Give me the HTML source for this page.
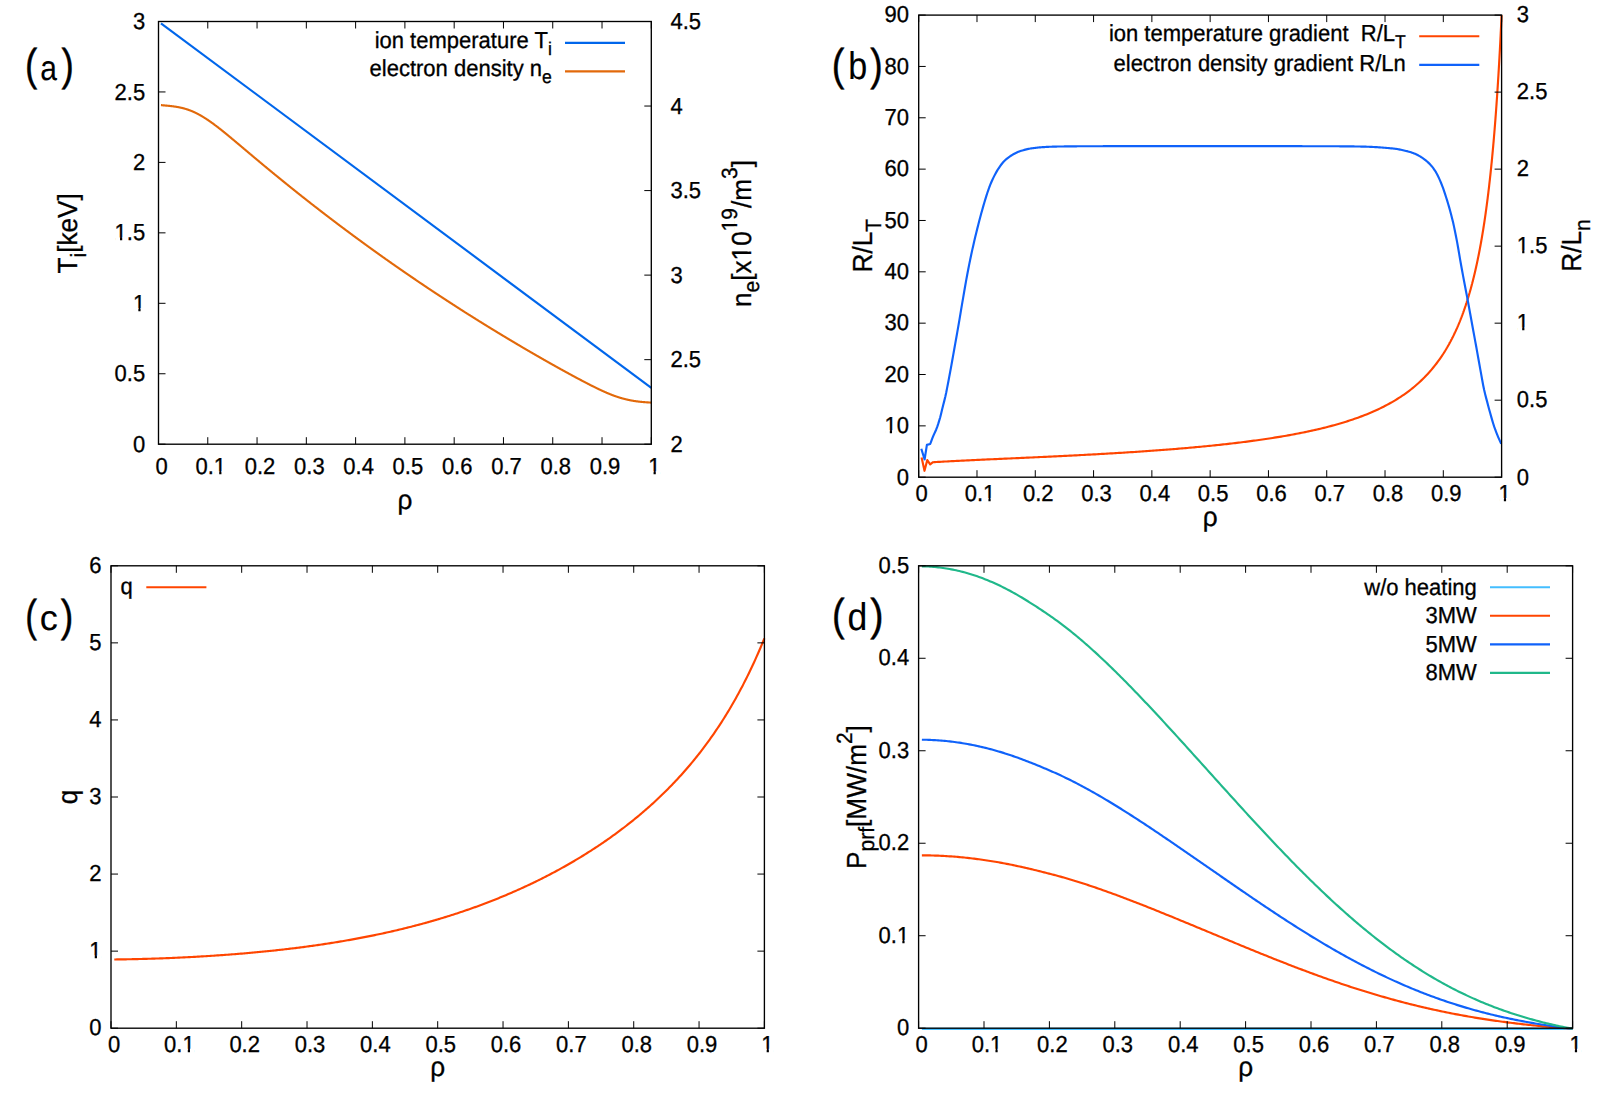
<!DOCTYPE html>
<html lang="en"><head><meta charset="utf-8"><title>Radial profiles</title>
<style>html,body{margin:0;padding:0;background:#fff}svg{display:block}text{font-family:'Liberation Sans', Arial, Helvetica, sans-serif;fill:#000;stroke:#000;stroke-width:0.3px;text-rendering:geometricPrecision}</style></head><body>
<svg width="1600" height="1106" viewBox="0 0 1600 1106">
<rect width="1600" height="1106" fill="#fff"/>
<g id="panel-a">
<path d="M160.96,23.33 L651.3,387.84" fill="none" stroke="#0066eb" stroke-width="2.15" stroke-linejoin="round" stroke-linecap="butt"/>
<path d="M160.96,105.13 L161.21,105.15 L161.46,105.17 L161.7,105.19 L161.95,105.22 L162.2,105.24 L162.44,105.26 L162.69,105.28 L162.94,105.31 L163.18,105.33 L163.43,105.35 L163.67,105.37 L163.92,105.4 L164.17,105.42 L164.41,105.44 L164.66,105.47 L164.91,105.49 L165.15,105.51 L165.4,105.53 L165.65,105.56 L165.89,105.58 L166.14,105.6 L166.38,105.62 L166.63,105.65 L166.88,105.67 L167.12,105.69 L167.37,105.71 L167.62,105.74 L167.86,105.76 L168.11,105.78 L168.36,105.8 L168.6,105.83 L168.85,105.85 L169.1,105.87 L169.34,105.9 L169.59,105.92 L169.83,105.95 L170.08,105.97 L170.33,106 L170.57,106.03 L170.82,106.06 L171.07,106.08 L171.31,106.11 L171.56,106.14 L171.81,106.17 L172.05,106.2 L172.3,106.23 L172.54,106.26 L172.79,106.3 L173.04,106.33 L173.28,106.36 L173.53,106.39 L173.78,106.43 L174.02,106.46 L174.27,106.49 L174.52,106.53 L174.76,106.57 L175.01,106.6 L175.26,106.64 L175.5,106.68 L175.75,106.71 L175.99,106.75 L176.24,106.79 L176.49,106.83 L176.73,106.87 L176.98,106.92 L177.23,106.96 L177.47,107 L177.72,107.04 L177.97,107.09 L178.21,107.14 L178.46,107.18 L178.7,107.23 L178.95,107.28 L179.2,107.33 L179.44,107.38 L179.69,107.43 L179.94,107.48 L180.18,107.53 L180.43,107.58 L180.68,107.64 L180.92,107.69 L181.17,107.75 L181.42,107.8 L181.66,107.86 L181.91,107.92 L182.15,107.98 L182.4,108.04 L182.65,108.1 L182.89,108.16 L183.14,108.22 L183.39,108.29 L183.63,108.35 L183.88,108.42 L184.13,108.48 L184.37,108.55 L184.62,108.62 L184.86,108.69 L185.11,108.76 L185.36,108.84 L185.6,108.91 L185.85,108.98 L186.1,109.06 L186.34,109.14 L186.59,109.21 L186.84,109.29 L187.08,109.37 L187.33,109.45 L187.58,109.54 L187.82,109.62 L188.07,109.7 L188.31,109.79 L188.56,109.87 L188.81,109.96 L189.05,110.05 L189.3,110.14 L189.55,110.23 L189.79,110.32 L190.04,110.42 L190.29,110.51 L190.53,110.61 L190.78,110.7 L191.02,110.8 L191.27,110.9 L191.52,111 L191.76,111.1 L192.01,111.2 L192.26,111.31 L192.5,111.41 L192.75,111.51 L193,111.62 L193.24,111.73 L193.49,111.84 L193.74,111.95 L193.98,112.06 L194.23,112.17 L194.47,112.28 L194.72,112.4 L194.97,112.51 L195.21,112.63 L195.46,112.75 L195.71,112.87 L195.95,112.99 L196.2,113.11 L196.45,113.23 L196.69,113.36 L196.94,113.48 L197.18,113.61 L197.43,113.73 L197.68,113.86 L197.92,113.99 L198.17,114.12 L198.42,114.25 L198.66,114.38 L198.91,114.52 L199.16,114.65 L199.4,114.79 L199.65,114.92 L199.9,115.06 L200.14,115.2 L200.39,115.34 L200.63,115.48 L200.88,115.62 L201.13,115.76 L201.37,115.91 L201.62,116.05 L201.87,116.2 L202.11,116.34 L202.36,116.49 L202.61,116.64 L202.85,116.79 L203.1,116.94 L203.34,117.09 L203.59,117.24 L203.84,117.39 L204.08,117.54 L204.33,117.7 L204.58,117.85 L204.82,118.01 L205.07,118.16 L205.32,118.32 L205.56,118.48 L205.81,118.64 L206.06,118.8 L206.3,118.96 L206.55,119.12 L206.79,119.28 L207.04,119.44 L207.29,119.6 L207.53,119.77 L207.78,119.93 L208.03,120.1 L208.27,120.27 L208.52,120.43 L208.77,120.6 L209.01,120.77 L209.26,120.94 L209.5,121.11 L209.75,121.28 L210,121.45 L210.24,121.62 L210.49,121.79 L210.74,121.97 L210.98,122.14 L211.23,122.32 L211.48,122.49 L211.72,122.67 L211.97,122.84 L212.22,123.02 L212.46,123.2 L212.71,123.38 L212.95,123.56 L213.2,123.74 L213.45,123.92 L213.69,124.1 L213.94,124.28 L214.19,124.46 L214.43,124.64 L214.68,124.83 L214.93,125.01 L215.17,125.2 L215.42,125.38 L215.66,125.57 L215.91,125.75 L216.16,125.94 L216.4,126.13 L216.65,126.32 L216.9,126.5 L217.14,126.69 L217.39,126.88 L217.64,127.07 L217.88,127.26 L218.13,127.45 L218.38,127.64 L218.62,127.84 L218.87,128.03 L219.11,128.22 L219.36,128.41 L219.61,128.61 L219.85,128.8 L220.1,128.99 L220.35,129.19 L220.59,129.38 L220.84,129.58 L221.09,129.78 L221.33,129.97 L221.58,130.17 L221.82,130.36 L222.07,130.56 L222.32,130.76 L222.56,130.96 L222.81,131.15 L223.06,131.35 L223.3,131.55 L223.55,131.75 L223.8,131.95 L224.04,132.15 L224.29,132.35 L224.54,132.55 L224.78,132.75 L225.03,132.95 L225.27,133.15 L225.52,133.35 L225.77,133.55 L226.01,133.75 L226.26,133.95 L226.51,134.16 L226.75,134.36 L227,134.56 L227.25,134.76 L227.49,134.97 L227.74,135.17 L227.98,135.37 L228.23,135.57 L228.48,135.78 L228.72,135.98 L228.97,136.19 L229.22,136.39 L229.46,136.59 L229.71,136.8 L229.96,137 L230.2,137.21 L230.45,137.41 L230.7,137.62 L230.94,137.82 L231.19,138.03 L231.43,138.23 L231.68,138.44 L231.93,138.64 L232.17,138.85 L232.42,139.05 L232.67,139.26 L232.91,139.47 L233.16,139.67 L233.41,139.88 L233.65,140.08 L233.9,140.29 L234.14,140.5 L234.39,140.7 L234.64,140.91 L234.88,141.12 L235.13,141.32 L235.38,141.53 L235.62,141.74 L235.87,141.94 L236.12,142.15 L236.36,142.36 L236.61,142.56 L236.86,142.77 L237.1,142.98 L237.35,143.18 L237.59,143.39 L237.84,143.6 L238.09,143.8 L238.33,144.01 L238.58,144.22 L238.83,144.43 L239.07,144.63 L239.32,144.84 L239.57,145.05 L239.81,145.26 L240.06,145.46 L240.3,145.67 L240.55,145.88 L240.8,146.09 L241.04,146.29 L241.29,146.5 L241.54,146.71 L241.78,146.92 L242.03,147.12 L242.28,147.33 L242.52,147.54 L242.77,147.75 L243.02,147.95 L243.26,148.16 L243.51,148.37 L243.75,148.58 L244,148.79 L244.25,148.99 L244.49,149.2 L244.74,149.41 L244.99,149.62 L245.23,149.82 L245.48,150.03 L245.73,150.24 L245.97,150.45 L246.22,150.65 L246.46,150.86 L246.71,151.07 L246.96,151.28 L247.2,151.48 L247.45,151.69 L247.7,151.9 L247.94,152.11 L248.19,152.31 L248.44,152.52 L248.68,152.73 L248.93,152.94 L249.18,153.14 L249.42,153.35 L249.67,153.56 L249.91,153.77 L250.16,153.97 L250.41,154.18 L250.65,154.39 L250.9,154.59 L251.15,154.8 L251.39,155.01 L251.64,155.22 L251.89,155.42 L252.13,155.63 L252.38,155.84 L252.62,156.04 L252.87,156.25 L253.12,156.46 L253.36,156.66 L253.61,156.87 L253.86,157.08 L254.1,157.29 L254.35,157.49 L254.6,157.7 L254.84,157.91 L255.09,158.11 L255.34,158.32 L255.58,158.52 L255.83,158.73 L256.07,158.94 L256.32,159.14 L256.57,159.35 L256.81,159.56 L257.06,159.76 L257.31,159.97 L257.55,160.18 L257.8,160.38 L258.05,160.59 L258.29,160.79 L258.54,161 L258.78,161.2 L259.03,161.41 L259.28,161.62 L259.52,161.82 L259.77,162.03 L260.02,162.23 L260.26,162.44 L260.51,162.64 L260.76,162.85 L261,163.06 L261.25,163.26 L261.5,163.47 L261.74,163.67 L261.99,163.88 L262.23,164.08 L262.48,164.29 L262.73,164.49 L262.97,164.7 L263.22,164.9 L263.47,165.11 L263.71,165.31 L263.96,165.52 L264.21,165.72 L264.45,165.93 L264.7,166.13 L264.94,166.33 L265.19,166.54 L265.44,166.74 L265.68,166.95 L265.93,167.15 L266.18,167.36 L266.42,167.56 L266.67,167.76 L266.92,167.97 L267.16,168.17 L267.41,168.38 L267.66,168.58 L267.9,168.78 L268.15,168.99 L268.39,169.19 L268.64,169.4 L268.89,169.6 L269.13,169.8 L269.38,170.01 L269.63,170.21 L269.87,170.41 L270.12,170.62 L270.37,170.82 L270.61,171.02 L270.86,171.23 L271.1,171.43 L271.35,171.63 L271.6,171.84 L271.84,172.04 L272.09,172.24 L272.34,172.44 L272.58,172.65 L272.83,172.85 L273.08,173.05 L273.32,173.25 L273.57,173.46 L273.82,173.66 L274.06,173.86 L274.31,174.06 L274.55,174.27 L274.8,174.47 L275.05,174.67 L275.29,174.87 L275.54,175.07 L275.79,175.28 L276.03,175.48 L276.28,175.68 L276.53,175.88 L276.77,176.08 L277.02,176.28 L277.26,176.49 L277.51,176.69 L277.76,176.89 L278,177.09 L278.25,177.29 L278.5,177.49 L278.74,177.69 L278.99,177.89 L279.24,178.1 L279.48,178.3 L279.73,178.5 L279.98,178.7 L280.22,178.9 L280.47,179.1 L280.71,179.3 L280.96,179.5 L281.21,179.7 L281.45,179.9 L281.7,180.1 L281.95,180.3 L282.19,180.5 L282.44,180.7 L282.69,180.9 L282.93,181.1 L283.18,181.3 L283.42,181.5 L283.67,181.7 L283.92,181.9 L284.16,182.1 L284.41,182.3 L284.66,182.5 L284.9,182.7 L285.15,182.9 L285.4,183.1 L285.64,183.3 L285.89,183.5 L286.14,183.7 L286.38,183.9 L286.63,184.09 L286.87,184.29 L287.12,184.49 L287.37,184.69 L287.61,184.89 L287.86,185.09 L288.11,185.29 L288.35,185.49 L288.6,185.68 L288.85,185.88 L289.09,186.08 L289.34,186.28 L289.58,186.48 L289.83,186.68 L290.08,186.87 L290.32,187.07 L290.57,187.27 L290.82,187.47 L291.06,187.67 L291.31,187.86 L291.56,188.06 L291.8,188.26 L292.05,188.46 L292.3,188.65 L292.54,188.85 L292.79,189.05 L293.03,189.25 L293.28,189.44 L293.53,189.64 L293.77,189.84 L294.02,190.04 L294.27,190.23 L294.51,190.43 L294.76,190.63 L295.01,190.82 L295.25,191.02 L295.5,191.22 L295.74,191.41 L295.99,191.61 L296.24,191.81 L296.48,192 L296.73,192.2 L296.98,192.4 L297.22,192.59 L297.47,192.79 L297.72,192.99 L297.96,193.18 L298.21,193.38 L298.46,193.57 L298.7,193.77 L298.95,193.96 L299.19,194.16 L299.44,194.36 L299.69,194.55 L299.93,194.75 L300.18,194.94 L300.43,195.14 L300.67,195.33 L300.92,195.53 L301.17,195.72 L301.41,195.92 L301.66,196.11 L301.9,196.31 L302.15,196.5 L302.4,196.7 L302.64,196.89 L302.89,197.09 L303.14,197.28 L303.38,197.48 L303.63,197.67 L303.88,197.87 L304.12,198.06 L304.37,198.26 L304.62,198.45 L304.86,198.65 L305.11,198.84 L305.35,199.03 L305.6,199.23 L305.85,199.42 L306.09,199.62 L306.34,199.81 L306.59,200 L306.83,200.2 L307.08,200.39 L307.33,200.58 L307.57,200.78 L307.82,200.97 L308.06,201.17 L308.31,201.36 L308.56,201.55 L308.8,201.75 L309.05,201.94 L309.3,202.13 L309.54,202.32 L309.79,202.52 L310.04,202.71 L310.28,202.9 L310.53,203.1 L310.78,203.29 L311.02,203.48 L311.27,203.67 L311.51,203.87 L311.76,204.06 L312.01,204.25 L312.25,204.44 L312.5,204.64 L312.75,204.83 L312.99,205.02 L313.24,205.21 L313.49,205.41 L313.73,205.6 L313.98,205.79 L314.22,205.98 L314.47,206.17 L314.72,206.36 L314.96,206.56 L315.21,206.75 L315.46,206.94 L315.7,207.13 L315.95,207.32 L316.2,207.51 L316.44,207.71 L316.69,207.9 L316.94,208.09 L317.18,208.28 L317.43,208.47 L317.67,208.66 L317.92,208.85 L318.17,209.04 L318.41,209.23 L318.66,209.42 L318.91,209.61 L319.15,209.81 L319.4,210 L319.65,210.19 L319.89,210.38 L320.14,210.57 L320.38,210.76 L320.63,210.95 L320.88,211.14 L321.12,211.33 L321.37,211.52 L321.62,211.71 L321.86,211.9 L322.11,212.09 L322.36,212.28 L322.6,212.47 L322.85,212.66 L323.1,212.85 L323.34,213.04 L323.59,213.23 L323.83,213.41 L324.08,213.6 L324.33,213.79 L324.57,213.98 L324.82,214.17 L325.07,214.36 L325.31,214.55 L325.56,214.74 L325.81,214.93 L326.05,215.12 L326.3,215.31 L326.54,215.49 L326.79,215.68 L327.04,215.87 L327.28,216.06 L327.53,216.25 L327.78,216.44 L328.02,216.62 L328.27,216.81 L328.52,217 L328.76,217.19 L329.01,217.38 L329.26,217.57 L329.5,217.75 L329.75,217.94 L329.99,218.13 L330.24,218.32 L330.49,218.5 L330.73,218.69 L330.98,218.88 L331.23,219.07 L331.47,219.25 L331.72,219.44 L331.97,219.63 L332.21,219.82 L332.46,220 L332.7,220.19 L332.95,220.38 L333.2,220.57 L333.44,220.75 L333.69,220.94 L333.94,221.13 L334.18,221.31 L334.43,221.5 L334.68,221.69 L334.92,221.87 L335.17,222.06 L335.42,222.25 L335.66,222.43 L335.91,222.62 L336.15,222.8 L336.4,222.99 L336.65,223.18 L336.89,223.36 L337.14,223.55 L337.39,223.74 L337.63,223.92 L337.88,224.11 L338.13,224.29 L338.37,224.48 L338.62,224.66 L338.86,224.85 L339.11,225.04 L339.36,225.22 L339.6,225.41 L339.85,225.59 L340.1,225.78 L340.34,225.96 L340.59,226.15 L340.84,226.33 L341.08,226.52 L341.33,226.7 L341.58,226.89 L341.82,227.07 L342.07,227.26 L342.31,227.44 L342.56,227.63 L342.81,227.81 L343.05,228 L343.3,228.18 L343.55,228.36 L343.79,228.55 L344.04,228.73 L344.29,228.92 L344.53,229.1 L344.78,229.29 L345.02,229.47 L345.27,229.65 L345.52,229.84 L345.76,230.02 L346.01,230.21 L346.26,230.39 L346.5,230.57 L346.75,230.76 L347,230.94 L347.24,231.12 L347.49,231.31 L347.74,231.49 L347.98,231.67 L348.23,231.86 L348.47,232.04 L348.72,232.22 L348.97,232.41 L349.21,232.59 L349.46,232.77 L349.71,232.96 L349.95,233.14 L350.2,233.32 L350.45,233.5 L350.69,233.69 L350.94,233.87 L351.18,234.05 L351.43,234.23 L351.68,234.42 L351.92,234.6 L352.17,234.78 L352.42,234.96 L352.66,235.15 L352.91,235.33 L353.16,235.51 L353.4,235.69 L353.65,235.87 L353.9,236.06 L354.14,236.24 L354.39,236.42 L354.63,236.6 L354.88,236.78 L355.13,236.97 L355.37,237.15 L355.62,237.33 L355.87,237.51 L356.11,237.69 L356.36,237.87 L356.61,238.05 L356.85,238.23 L357.1,238.42 L357.34,238.6 L357.59,238.78 L357.84,238.96 L358.08,239.14 L358.33,239.32 L358.58,239.5 L358.82,239.68 L359.07,239.86 L359.32,240.04 L359.56,240.22 L359.81,240.4 L360.06,240.58 L360.3,240.76 L360.55,240.94 L360.79,241.12 L361.04,241.31 L361.29,241.49 L361.53,241.67 L361.78,241.85 L362.03,242.03 L362.27,242.2 L362.52,242.38 L362.77,242.56 L363.01,242.74 L363.26,242.92 L363.5,243.1 L363.75,243.28 L364,243.46 L364.24,243.64 L364.49,243.82 L364.74,244 L364.98,244.18 L365.23,244.36 L365.48,244.54 L365.72,244.72 L365.97,244.9 L366.22,245.07 L366.46,245.25 L366.71,245.43 L366.95,245.61 L367.2,245.79 L367.45,245.97 L367.69,246.15 L367.94,246.32 L368.19,246.5 L368.43,246.68 L368.68,246.86 L368.93,247.04 L369.17,247.22 L369.42,247.39 L369.66,247.57 L369.91,247.75 L370.16,247.93 L370.4,248.11 L370.65,248.28 L370.9,248.46 L371.14,248.64 L371.39,248.82 L371.64,248.99 L371.88,249.17 L372.13,249.35 L372.38,249.53 L372.62,249.7 L372.87,249.88 L373.11,250.06 L373.36,250.24 L373.61,250.41 L373.85,250.59 L374.1,250.77 L374.35,250.94 L374.59,251.12 L374.84,251.3 L375.09,251.48 L375.33,251.65 L375.58,251.83 L375.82,252.01 L376.07,252.18 L376.32,252.36 L376.56,252.53 L376.81,252.71 L377.06,252.89 L377.3,253.06 L377.55,253.24 L377.8,253.42 L378.04,253.59 L378.29,253.77 L378.54,253.94 L378.78,254.12 L379.03,254.3 L379.27,254.47 L379.52,254.65 L379.77,254.82 L380.01,255 L380.26,255.17 L380.51,255.35 L380.75,255.52 L381,255.7 L381.25,255.88 L381.49,256.05 L381.74,256.23 L381.98,256.4 L382.23,256.58 L382.48,256.75 L382.72,256.93 L382.97,257.1 L383.22,257.28 L383.46,257.45 L383.71,257.62 L383.96,257.8 L384.2,257.97 L384.45,258.15 L384.7,258.32 L384.94,258.5 L385.19,258.67 L385.43,258.85 L385.68,259.02 L385.93,259.19 L386.17,259.37 L386.42,259.54 L386.67,259.72 L386.91,259.89 L387.16,260.06 L387.41,260.24 L387.65,260.41 L387.9,260.59 L388.14,260.76 L388.39,260.93 L388.64,261.11 L388.88,261.28 L389.13,261.45 L389.38,261.63 L389.62,261.8 L389.87,261.97 L390.12,262.15 L390.36,262.32 L390.61,262.49 L390.86,262.67 L391.1,262.84 L391.35,263.01 L391.59,263.19 L391.84,263.36 L392.09,263.53 L392.33,263.7 L392.58,263.88 L392.83,264.05 L393.07,264.22 L393.32,264.39 L393.57,264.57 L393.81,264.74 L394.06,264.91 L394.3,265.08 L394.55,265.26 L394.8,265.43 L395.04,265.6 L395.29,265.77 L395.54,265.94 L395.78,266.12 L396.03,266.29 L396.28,266.46 L396.52,266.63 L396.77,266.8 L397.02,266.97 L397.26,267.15 L397.51,267.32 L397.75,267.49 L398,267.66 L398.25,267.83 L398.49,268 L398.74,268.17 L398.99,268.34 L399.23,268.52 L399.48,268.69 L399.73,268.86 L399.97,269.03 L400.22,269.2 L400.46,269.37 L400.71,269.54 L400.96,269.71 L401.2,269.88 L401.45,270.05 L401.7,270.22 L401.94,270.39 L402.19,270.56 L402.44,270.74 L402.68,270.91 L402.93,271.08 L403.18,271.25 L403.42,271.42 L403.67,271.59 L403.91,271.76 L404.16,271.93 L404.41,272.1 L404.65,272.27 L404.9,272.44 L405.15,272.61 L405.39,272.78 L405.64,272.94 L405.89,273.11 L406.13,273.28 L406.38,273.45 L406.62,273.62 L406.87,273.79 L407.12,273.96 L407.36,274.13 L407.61,274.3 L407.86,274.47 L408.1,274.64 L408.35,274.81 L408.6,274.98 L408.84,275.14 L409.09,275.31 L409.34,275.48 L409.58,275.65 L409.83,275.82 L410.07,275.99 L410.32,276.16 L410.57,276.33 L410.81,276.49 L411.06,276.66 L411.31,276.83 L411.55,277 L411.8,277.17 L412.05,277.34 L412.29,277.5 L412.54,277.67 L412.78,277.84 L413.03,278.01 L413.28,278.18 L413.52,278.34 L413.77,278.51 L414.02,278.68 L414.26,278.85 L414.51,279.01 L414.76,279.18 L415,279.35 L415.25,279.52 L415.5,279.68 L415.74,279.85 L415.99,280.02 L416.23,280.19 L416.48,280.35 L416.73,280.52 L416.97,280.69 L417.22,280.85 L417.47,281.02 L417.71,281.19 L417.96,281.35 L418.21,281.52 L418.45,281.69 L418.7,281.85 L418.94,282.02 L419.19,282.19 L419.44,282.35 L419.68,282.52 L419.93,282.69 L420.18,282.85 L420.42,283.02 L420.67,283.19 L420.92,283.35 L421.16,283.52 L421.41,283.68 L421.66,283.85 L421.9,284.02 L422.15,284.18 L422.39,284.35 L422.64,284.51 L422.89,284.68 L423.13,284.84 L423.38,285.01 L423.63,285.18 L423.87,285.34 L424.12,285.51 L424.37,285.67 L424.61,285.84 L424.86,286 L425.1,286.17 L425.35,286.33 L425.6,286.5 L425.84,286.66 L426.09,286.83 L426.34,286.99 L426.58,287.16 L426.83,287.32 L427.08,287.49 L427.32,287.65 L427.57,287.82 L427.82,287.98 L428.06,288.15 L428.31,288.31 L428.55,288.48 L428.8,288.64 L429.05,288.8 L429.29,288.97 L429.54,289.13 L429.79,289.3 L430.03,289.46 L430.28,289.62 L430.53,289.79 L430.77,289.95 L431.02,290.12 L431.26,290.28 L431.51,290.44 L431.76,290.61 L432,290.77 L432.25,290.94 L432.5,291.1 L432.74,291.26 L432.99,291.43 L433.24,291.59 L433.48,291.75 L433.73,291.92 L433.98,292.08 L434.22,292.24 L434.47,292.41 L434.71,292.57 L434.96,292.73 L435.21,292.89 L435.45,293.06 L435.7,293.22 L435.95,293.38 L436.19,293.55 L436.44,293.71 L436.69,293.87 L436.93,294.03 L437.18,294.2 L437.42,294.36 L437.67,294.52 L437.92,294.68 L438.16,294.85 L438.41,295.01 L438.66,295.17 L438.9,295.33 L439.15,295.49 L439.4,295.66 L439.64,295.82 L439.89,295.98 L440.14,296.14 L440.38,296.3 L440.63,296.47 L440.87,296.63 L441.12,296.79 L441.37,296.95 L441.61,297.11 L441.86,297.27 L442.11,297.44 L442.35,297.6 L442.6,297.76 L442.85,297.92 L443.09,298.08 L443.34,298.24 L443.58,298.4 L443.83,298.56 L444.08,298.73 L444.32,298.89 L444.57,299.05 L444.82,299.21 L445.06,299.37 L445.31,299.53 L445.56,299.69 L445.8,299.85 L446.05,300.01 L446.3,300.17 L446.54,300.33 L446.79,300.49 L447.03,300.65 L447.28,300.81 L447.53,300.97 L447.77,301.13 L448.02,301.29 L448.27,301.45 L448.51,301.61 L448.76,301.77 L449.01,301.93 L449.25,302.09 L449.5,302.25 L449.74,302.41 L449.99,302.57 L450.24,302.73 L450.48,302.89 L450.73,303.05 L450.98,303.21 L451.22,303.37 L451.47,303.53 L451.72,303.69 L451.96,303.85 L452.21,304.01 L452.46,304.17 L452.7,304.33 L452.95,304.49 L453.19,304.65 L453.44,304.8 L453.69,304.96 L453.93,305.12 L454.18,305.28 L454.43,305.44 L454.67,305.6 L454.92,305.76 L455.17,305.92 L455.41,306.07 L455.66,306.23 L455.9,306.39 L456.15,306.55 L456.4,306.71 L456.64,306.87 L456.89,307.03 L457.14,307.18 L457.38,307.34 L457.63,307.5 L457.88,307.66 L458.12,307.82 L458.37,307.97 L458.62,308.13 L458.86,308.29 L459.11,308.45 L459.35,308.6 L459.6,308.76 L459.85,308.92 L460.09,309.08 L460.34,309.24 L460.59,309.39 L460.83,309.55 L461.08,309.71 L461.33,309.86 L461.57,310.02 L461.82,310.18 L462.06,310.34 L462.31,310.49 L462.56,310.65 L462.8,310.81 L463.05,310.96 L463.3,311.12 L463.54,311.28 L463.79,311.44 L464.04,311.59 L464.28,311.75 L464.53,311.91 L464.78,312.06 L465.02,312.22 L465.27,312.37 L465.51,312.53 L465.76,312.69 L466.01,312.84 L466.25,313 L466.5,313.16 L466.75,313.31 L466.99,313.47 L467.24,313.62 L467.49,313.78 L467.73,313.94 L467.98,314.09 L468.22,314.25 L468.47,314.4 L468.72,314.56 L468.96,314.72 L469.21,314.87 L469.46,315.03 L469.7,315.18 L469.95,315.34 L470.2,315.49 L470.44,315.65 L470.69,315.8 L470.94,315.96 L471.18,316.11 L471.43,316.27 L471.67,316.42 L471.92,316.58 L472.17,316.73 L472.41,316.89 L472.66,317.04 L472.91,317.2 L473.15,317.35 L473.4,317.51 L473.65,317.66 L473.89,317.82 L474.14,317.97 L474.38,318.13 L474.63,318.28 L474.88,318.44 L475.12,318.59 L475.37,318.74 L475.62,318.9 L475.86,319.05 L476.11,319.21 L476.36,319.36 L476.6,319.52 L476.85,319.67 L477.1,319.82 L477.34,319.98 L477.59,320.13 L477.83,320.29 L478.08,320.44 L478.33,320.59 L478.57,320.75 L478.82,320.9 L479.07,321.05 L479.31,321.21 L479.56,321.36 L479.81,321.51 L480.05,321.67 L480.3,321.82 L480.54,321.97 L480.79,322.13 L481.04,322.28 L481.28,322.43 L481.53,322.59 L481.78,322.74 L482.02,322.89 L482.27,323.05 L482.52,323.2 L482.76,323.35 L483.01,323.5 L483.26,323.66 L483.5,323.81 L483.75,323.96 L483.99,324.11 L484.24,324.27 L484.49,324.42 L484.73,324.57 L484.98,324.72 L485.23,324.88 L485.47,325.03 L485.72,325.18 L485.97,325.33 L486.21,325.48 L486.46,325.64 L486.7,325.79 L486.95,325.94 L487.2,326.09 L487.44,326.24 L487.69,326.4 L487.94,326.55 L488.18,326.7 L488.43,326.85 L488.68,327 L488.92,327.15 L489.17,327.31 L489.42,327.46 L489.66,327.61 L489.91,327.76 L490.15,327.91 L490.4,328.06 L490.65,328.21 L490.89,328.36 L491.14,328.52 L491.39,328.67 L491.63,328.82 L491.88,328.97 L492.13,329.12 L492.37,329.27 L492.62,329.42 L492.86,329.57 L493.11,329.72 L493.36,329.87 L493.6,330.02 L493.85,330.17 L494.1,330.32 L494.34,330.48 L494.59,330.63 L494.84,330.78 L495.08,330.93 L495.33,331.08 L495.58,331.23 L495.82,331.38 L496.07,331.53 L496.31,331.68 L496.56,331.83 L496.81,331.98 L497.05,332.13 L497.3,332.28 L497.55,332.43 L497.79,332.58 L498.04,332.73 L498.29,332.87 L498.53,333.02 L498.78,333.17 L499.02,333.32 L499.27,333.47 L499.52,333.62 L499.76,333.77 L500.01,333.92 L500.26,334.07 L500.5,334.22 L500.75,334.37 L501,334.52 L501.24,334.67 L501.49,334.82 L501.74,334.96 L501.98,335.11 L502.23,335.26 L502.47,335.41 L502.72,335.56 L502.97,335.71 L503.21,335.86 L503.46,336 L503.71,336.15 L503.95,336.3 L504.2,336.45 L504.45,336.6 L504.69,336.75 L504.94,336.9 L505.18,337.04 L505.43,337.19 L505.68,337.34 L505.92,337.49 L506.17,337.64 L506.42,337.78 L506.66,337.93 L506.91,338.08 L507.16,338.23 L507.4,338.37 L507.65,338.52 L507.9,338.67 L508.14,338.82 L508.39,338.97 L508.63,339.11 L508.88,339.26 L509.13,339.41 L509.37,339.56 L509.62,339.7 L509.87,339.85 L510.11,340 L510.36,340.14 L510.61,340.29 L510.85,340.44 L511.1,340.59 L511.34,340.73 L511.59,340.88 L511.84,341.03 L512.08,341.17 L512.33,341.32 L512.58,341.47 L512.82,341.61 L513.07,341.76 L513.32,341.91 L513.56,342.05 L513.81,342.2 L514.06,342.35 L514.3,342.49 L514.55,342.64 L514.79,342.78 L515.04,342.93 L515.29,343.08 L515.53,343.22 L515.78,343.37 L516.03,343.52 L516.27,343.66 L516.52,343.81 L516.77,343.95 L517.01,344.1 L517.26,344.24 L517.5,344.39 L517.75,344.54 L518,344.68 L518.24,344.83 L518.49,344.97 L518.74,345.12 L518.98,345.26 L519.23,345.41 L519.48,345.55 L519.72,345.7 L519.97,345.85 L520.22,345.99 L520.46,346.14 L520.71,346.28 L520.95,346.43 L521.2,346.57 L521.45,346.72 L521.69,346.86 L521.94,347.01 L522.19,347.15 L522.43,347.29 L522.68,347.44 L522.93,347.58 L523.17,347.73 L523.42,347.87 L523.66,348.02 L523.91,348.16 L524.16,348.31 L524.4,348.45 L524.65,348.6 L524.9,348.74 L525.14,348.88 L525.39,349.03 L525.64,349.17 L525.88,349.32 L526.13,349.46 L526.38,349.6 L526.62,349.75 L526.87,349.89 L527.11,350.04 L527.36,350.18 L527.61,350.32 L527.85,350.47 L528.1,350.61 L528.35,350.75 L528.59,350.9 L528.84,351.04 L529.09,351.18 L529.33,351.33 L529.58,351.47 L529.82,351.61 L530.07,351.76 L530.32,351.9 L530.56,352.04 L530.81,352.19 L531.06,352.33 L531.3,352.47 L531.55,352.62 L531.8,352.76 L532.04,352.9 L532.29,353.04 L532.54,353.19 L532.78,353.33 L533.03,353.47 L533.27,353.61 L533.52,353.76 L533.77,353.9 L534.01,354.04 L534.26,354.18 L534.51,354.33 L534.75,354.47 L535,354.61 L535.25,354.75 L535.49,354.9 L535.74,355.04 L535.98,355.18 L536.23,355.32 L536.48,355.46 L536.72,355.6 L536.97,355.75 L537.22,355.89 L537.46,356.03 L537.71,356.17 L537.96,356.31 L538.2,356.45 L538.45,356.6 L538.7,356.74 L538.94,356.88 L539.19,357.02 L539.43,357.16 L539.68,357.3 L539.93,357.44 L540.17,357.59 L540.42,357.73 L540.67,357.87 L540.91,358.01 L541.16,358.15 L541.41,358.29 L541.65,358.43 L541.9,358.57 L542.14,358.71 L542.39,358.85 L542.64,358.99 L542.88,359.13 L543.13,359.27 L543.38,359.42 L543.62,359.56 L543.87,359.7 L544.12,359.84 L544.36,359.98 L544.61,360.12 L544.86,360.26 L545.1,360.4 L545.35,360.54 L545.59,360.68 L545.84,360.82 L546.09,360.96 L546.33,361.1 L546.58,361.24 L546.83,361.38 L547.07,361.52 L547.32,361.65 L547.57,361.79 L547.81,361.93 L548.06,362.07 L548.3,362.21 L548.55,362.35 L548.8,362.49 L549.04,362.63 L549.29,362.77 L549.54,362.91 L549.78,363.05 L550.03,363.19 L550.28,363.33 L550.52,363.46 L550.77,363.6 L551.02,363.74 L551.26,363.88 L551.51,364.02 L551.75,364.16 L552,364.3 L552.25,364.43 L552.49,364.57 L552.74,364.71 L552.99,364.85 L553.23,364.99 L553.48,365.13 L553.73,365.26 L553.97,365.4 L554.22,365.54 L554.46,365.68 L554.71,365.82 L554.96,365.95 L555.2,366.09 L555.45,366.23 L555.7,366.37 L555.94,366.51 L556.19,366.64 L556.44,366.78 L556.68,366.92 L556.93,367.05 L557.18,367.19 L557.42,367.33 L557.67,367.47 L557.91,367.6 L558.16,367.74 L558.41,367.88 L558.65,368.02 L558.9,368.15 L559.15,368.29 L559.39,368.43 L559.64,368.56 L559.89,368.7 L560.13,368.84 L560.38,368.97 L560.62,369.11 L560.87,369.25 L561.12,369.38 L561.36,369.52 L561.61,369.65 L561.86,369.79 L562.1,369.93 L562.35,370.06 L562.6,370.2 L562.84,370.34 L563.09,370.47 L563.34,370.61 L563.58,370.74 L563.83,370.88 L564.07,371.01 L564.32,371.15 L564.57,371.29 L564.81,371.42 L565.06,371.56 L565.31,371.69 L565.55,371.83 L565.8,371.96 L566.05,372.1 L566.29,372.23 L566.54,372.37 L566.78,372.5 L567.03,372.64 L567.28,372.77 L567.52,372.91 L567.77,373.04 L568.02,373.18 L568.26,373.31 L568.51,373.44 L568.76,373.58 L569,373.71 L569.25,373.85 L569.5,373.98 L569.74,374.12 L569.99,374.25 L570.23,374.38 L570.48,374.52 L570.73,374.65 L570.97,374.78 L571.22,374.92 L571.47,375.05 L571.71,375.18 L571.96,375.32 L572.21,375.45 L572.45,375.58 L572.7,375.72 L572.94,375.85 L573.19,375.98 L573.44,376.12 L573.68,376.25 L573.93,376.38 L574.18,376.52 L574.42,376.65 L574.67,376.78 L574.92,376.91 L575.16,377.05 L575.41,377.18 L575.66,377.31 L575.9,377.44 L576.15,377.57 L576.39,377.71 L576.64,377.84 L576.89,377.97 L577.13,378.1 L577.38,378.23 L577.63,378.36 L577.87,378.5 L578.12,378.63 L578.37,378.76 L578.61,378.89 L578.86,379.02 L579.1,379.15 L579.35,379.28 L579.6,379.41 L579.84,379.54 L580.09,379.67 L580.34,379.8 L580.58,379.93 L580.83,380.06 L581.08,380.19 L581.32,380.32 L581.57,380.45 L581.82,380.58 L582.06,380.71 L582.31,380.84 L582.55,380.97 L582.8,381.1 L583.05,381.23 L583.29,381.36 L583.54,381.49 L583.79,381.62 L584.03,381.75 L584.28,381.88 L584.53,382 L584.77,382.13 L585.02,382.26 L585.26,382.39 L585.51,382.52 L585.76,382.64 L586,382.77 L586.25,382.9 L586.5,383.03 L586.74,383.15 L586.99,383.28 L587.24,383.41 L587.48,383.54 L587.73,383.66 L587.98,383.79 L588.22,383.92 L588.47,384.04 L588.71,384.17 L588.96,384.29 L589.21,384.42 L589.45,384.55 L589.7,384.67 L589.95,384.8 L590.19,384.92 L590.44,385.05 L590.69,385.17 L590.93,385.3 L591.18,385.42 L591.42,385.55 L591.67,385.67 L591.92,385.8 L592.16,385.92 L592.41,386.04 L592.66,386.17 L592.9,386.29 L593.15,386.41 L593.4,386.54 L593.64,386.66 L593.89,386.78 L594.14,386.91 L594.38,387.03 L594.63,387.15 L594.87,387.27 L595.12,387.39 L595.37,387.51 L595.61,387.64 L595.86,387.76 L596.11,387.88 L596.35,388 L596.6,388.12 L596.85,388.24 L597.09,388.36 L597.34,388.48 L597.58,388.6 L597.83,388.72 L598.08,388.83 L598.32,388.95 L598.57,389.07 L598.82,389.19 L599.06,389.31 L599.31,389.42 L599.56,389.54 L599.8,389.66 L600.05,389.77 L600.3,389.89 L600.54,390 L600.79,390.12 L601.03,390.23 L601.28,390.35 L601.53,390.46 L601.77,390.58 L602.02,390.69 L602.27,390.8 L602.51,390.92 L602.76,391.03 L603.01,391.14 L603.25,391.25 L603.5,391.37 L603.74,391.48 L603.99,391.59 L604.24,391.7 L604.48,391.81 L604.73,391.92 L604.98,392.03 L605.22,392.13 L605.47,392.24 L605.72,392.35 L605.96,392.46 L606.21,392.56 L606.46,392.67 L606.7,392.78 L606.95,392.88 L607.19,392.99 L607.44,393.09 L607.69,393.2 L607.93,393.3 L608.18,393.4 L608.43,393.51 L608.67,393.61 L608.92,393.71 L609.17,393.81 L609.41,393.92 L609.66,394.02 L609.9,394.12 L610.15,394.22 L610.4,394.32 L610.64,394.41 L610.89,394.51 L611.14,394.61 L611.38,394.71 L611.63,394.8 L611.88,394.9 L612.12,394.99 L612.37,395.09 L612.62,395.18 L612.86,395.28 L613.11,395.37 L613.35,395.46 L613.6,395.55 L613.85,395.64 L614.09,395.73 L614.34,395.82 L614.59,395.91 L614.83,396 L615.08,396.09 L615.33,396.18 L615.57,396.26 L615.82,396.35 L616.06,396.43 L616.31,396.52 L616.56,396.6 L616.8,396.68 L617.05,396.77 L617.3,396.85 L617.54,396.93 L617.79,397.01 L618.04,397.09 L618.28,397.17 L618.53,397.25 L618.78,397.32 L619.02,397.4 L619.27,397.48 L619.51,397.55 L619.76,397.63 L620.01,397.7 L620.25,397.78 L620.5,397.85 L620.75,397.93 L620.99,398 L621.24,398.07 L621.49,398.14 L621.73,398.21 L621.98,398.28 L622.22,398.35 L622.47,398.42 L622.72,398.49 L622.96,398.56 L623.21,398.62 L623.46,398.69 L623.7,398.75 L623.95,398.82 L624.2,398.88 L624.44,398.95 L624.69,399.01 L624.94,399.07 L625.18,399.13 L625.43,399.2 L625.67,399.26 L625.92,399.32 L626.17,399.38 L626.41,399.44 L626.66,399.49 L626.91,399.55 L627.15,399.61 L627.4,399.66 L627.65,399.72 L627.89,399.77 L628.14,399.83 L628.38,399.88 L628.63,399.94 L628.88,399.99 L629.12,400.04 L629.37,400.09 L629.62,400.14 L629.86,400.19 L630.11,400.24 L630.36,400.29 L630.6,400.34 L630.85,400.39 L631.1,400.43 L631.34,400.48 L631.59,400.53 L631.83,400.57 L632.08,400.62 L632.33,400.66 L632.57,400.7 L632.82,400.75 L633.07,400.79 L633.31,400.83 L633.56,400.87 L633.81,400.91 L634.05,400.95 L634.3,400.99 L634.54,401.03 L634.79,401.06 L635.04,401.1 L635.28,401.14 L635.53,401.17 L635.78,401.21 L636.02,401.24 L636.27,401.28 L636.52,401.31 L636.76,401.34 L637.01,401.38 L637.26,401.41 L637.5,401.44 L637.75,401.47 L637.99,401.5 L638.24,401.53 L638.49,401.56 L638.73,401.59 L638.98,401.62 L639.23,401.65 L639.47,401.68 L639.72,401.7 L639.97,401.73 L640.21,401.76 L640.46,401.78 L640.7,401.81 L640.95,401.84 L641.2,401.86 L641.44,401.89 L641.69,401.91 L641.94,401.94 L642.18,401.96 L642.43,401.98 L642.68,402 L642.92,402.03 L643.17,402.05 L643.42,402.07 L643.66,402.09 L643.91,402.11 L644.15,402.13 L644.4,402.15 L644.65,402.17 L644.89,402.19 L645.14,402.21 L645.39,402.23 L645.63,402.25 L645.88,402.27 L646.13,402.29 L646.37,402.3 L646.62,402.32 L646.86,402.34 L647.11,402.36 L647.36,402.37 L647.6,402.39 L647.85,402.4 L648.1,402.42 L648.34,402.43 L648.59,402.45 L648.84,402.46 L649.08,402.48 L649.33,402.49 L649.58,402.51 L649.82,402.52 L650.07,402.54 L650.31,402.55 L650.56,402.56 L650.81,402.57 L651.05,402.59 L651.3,402.6" fill="none" stroke="#e2690a" stroke-width="2.15" stroke-linejoin="round" stroke-linecap="butt"/>
<path d="M158.5,444.2 v-7 M158.5,21.5 v7 M207.78,444.2 v-7 M207.78,21.5 v7 M257.06,444.2 v-7 M257.06,21.5 v7 M306.34,444.2 v-7 M306.34,21.5 v7 M355.62,444.2 v-7 M355.62,21.5 v7 M404.9,444.2 v-7 M404.9,21.5 v7 M454.18,444.2 v-7 M454.18,21.5 v7 M503.46,444.2 v-7 M503.46,21.5 v7 M552.74,444.2 v-7 M552.74,21.5 v7 M602.02,444.2 v-7 M602.02,21.5 v7 M651.3,444.2 v-7 M651.3,21.5 v7" stroke="#000" stroke-width="1.0" fill="none"/>
<path d="M158.5,444.2 h7 M158.5,373.75 h7 M158.5,303.3 h7 M158.5,232.85 h7 M158.5,162.4 h7 M158.5,91.95 h7 M158.5,21.5 h7" stroke="#000" stroke-width="1.0" fill="none"/>
<path d="M651.3,444.2 h-7 M651.3,359.66 h-7 M651.3,275.12 h-7 M651.3,190.58 h-7 M651.3,106.04 h-7 M651.3,21.5 h-7" stroke="#000" stroke-width="1.0" fill="none"/>
<rect x="158.5" y="21.5" width="492.8" height="422.7" fill="none" stroke="#000" stroke-width="1.35"/>
<text transform="translate(161.5,474.1) scale(1,1.05)" font-size="22" text-anchor="middle">0</text>
<g transform="translate(210.78,474.1) scale(1,1.05)">
<text font-size="22" text-anchor="middle">0.1</text>
<path d="M3.72,-2.75h4.72v4.4h-4.72z M10.66,-2.75h4.73v4.4h-4.73z" fill="#fff"/>
</g>
<text transform="translate(260.06,474.1) scale(1,1.05)" font-size="22" text-anchor="middle">0.2</text>
<text transform="translate(309.34,474.1) scale(1,1.05)" font-size="22" text-anchor="middle">0.3</text>
<text transform="translate(358.62,474.1) scale(1,1.05)" font-size="22" text-anchor="middle">0.4</text>
<text transform="translate(407.9,474.1) scale(1,1.05)" font-size="22" text-anchor="middle">0.5</text>
<text transform="translate(457.18,474.1) scale(1,1.05)" font-size="22" text-anchor="middle">0.6</text>
<text transform="translate(506.46,474.1) scale(1,1.05)" font-size="22" text-anchor="middle">0.7</text>
<text transform="translate(555.74,474.1) scale(1,1.05)" font-size="22" text-anchor="middle">0.8</text>
<text transform="translate(605.02,474.1) scale(1,1.05)" font-size="22" text-anchor="middle">0.9</text>
<g transform="translate(654.3,474.1) scale(1,1.05)">
<text font-size="22" text-anchor="middle">1</text>
<path d="M-5.46,-2.75h4.72v4.4h-4.72z M1.48,-2.75h4.73v4.4h-4.73z" fill="#fff"/>
</g>
<text transform="translate(145.2,451.8) scale(1,1.05)" font-size="22" text-anchor="end">0</text>
<text transform="translate(145.2,381.35) scale(1,1.05)" font-size="22" text-anchor="end">0.5</text>
<g transform="translate(145.2,310.9) scale(1,1.05)">
<text font-size="22" text-anchor="end">1</text>
<path d="M-11.58,-2.75h4.72v4.4h-4.72z M-4.63,-2.75h4.73v4.4h-4.73z" fill="#fff"/>
</g>
<g transform="translate(145.2,240.45) scale(1,1.05)">
<text font-size="22" text-anchor="end">1.5</text>
<path d="M-29.92,-2.75h4.72v4.4h-4.72z M-22.98,-2.75h4.73v4.4h-4.73z" fill="#fff"/>
</g>
<text transform="translate(145.2,170) scale(1,1.05)" font-size="22" text-anchor="end">2</text>
<text transform="translate(145.2,99.55) scale(1,1.05)" font-size="22" text-anchor="end">2.5</text>
<text transform="translate(145.2,29.1) scale(1,1.05)" font-size="22" text-anchor="end">3</text>
<text transform="translate(670.4,451.9) scale(1,1.05)" font-size="22" text-anchor="start">2</text>
<text transform="translate(670.4,367.36) scale(1,1.05)" font-size="22" text-anchor="start">2.5</text>
<text transform="translate(670.4,282.82) scale(1,1.05)" font-size="22" text-anchor="start">3</text>
<text transform="translate(670.4,198.28) scale(1,1.05)" font-size="22" text-anchor="start">3.5</text>
<text transform="translate(670.4,113.74) scale(1,1.05)" font-size="22" text-anchor="start">4</text>
<text transform="translate(670.4,29.2) scale(1,1.05)" font-size="22" text-anchor="start">4.5</text>
<text transform="translate(404.9,508.8) scale(1,1.05)" font-size="26.2" text-anchor="middle">ρ</text>
<text transform="translate(77.3,233.3) rotate(-90) scale(1,1.05)" font-size="26.2" text-anchor="middle"><tspan>T</tspan><tspan font-size="20.96" dy="7.86">i</tspan><tspan dy="-7.86">[keV]</tspan></text>
<g transform="translate(751,233.5) rotate(-90) scale(1,1.05)">
<text font-size="26.2" text-anchor="middle"><tspan>n</tspan><tspan font-size="20.96" dy="7.86">e</tspan><tspan dy="-7.86">[x10</tspan><tspan font-size="20.96" dy="-13.1">19</tspan><tspan dy="13.1">/m</tspan><tspan font-size="20.96" dy="-13.1">3</tspan><tspan dy="13.1">]</tspan></text>
<path d="M-26.16,-3.27h5.62v5.24h-5.62z M-17.89,-3.27h5.63v5.24h-5.63z M2.83,-15.72h4.5v4.19h-4.5z M9.44,-15.72h4.51v4.19h-4.51z" fill="#fff"/>
</g>
<text transform="translate(551.8,48) scale(1,1.05)" font-size="22" text-anchor="end"><tspan>ion temperature T</tspan><tspan font-size="17.6" dy="6.6">i</tspan></text>
<path d="M565,42.9 H625" stroke="#0066eb" stroke-width="2.15" fill="none"/>
<text transform="translate(551.8,76) scale(1,1.05)" font-size="22" text-anchor="end"><tspan>electron density n</tspan><tspan font-size="17.6" dy="6.6">e</tspan></text>
<path d="M565,71.3 H625" stroke="#e2690a" stroke-width="2.15" fill="none"/>
<text y="79.7" stroke="#fff"><tspan x="25.02" dy="0.7" font-size="44.5" stroke-width="0.4" textLength="12.24" lengthAdjust="spacingAndGlyphs">(</tspan><tspan x="40.24" dy="-0.7" font-size="35.3" stroke-width="0.1" textLength="16.7" lengthAdjust="spacingAndGlyphs">a</tspan><tspan x="61.58" dy="0.7" font-size="44.5" stroke-width="0.4" textLength="12.36" lengthAdjust="spacingAndGlyphs">)</tspan></text>
</g>
<g id="panel-b">
<path d="M921.6,457.5 L924.5,470.8 L927.3,460.1 L930.2,464.3 L932.98,462.23 L934.69,462.12 L936.39,462.02 L938.1,461.92 L939.81,461.83 L941.51,461.73 L943.22,461.63 L944.93,461.54 L946.64,461.45 L948.34,461.36 L950.05,461.26 L951.76,461.17 L953.46,461.09 L955.17,461 L956.88,460.91 L958.58,460.82 L960.29,460.74 L962,460.65 L963.7,460.57 L965.41,460.49 L967.12,460.4 L968.82,460.32 L970.53,460.24 L972.24,460.16 L973.94,460.08 L975.65,460 L977.36,459.92 L979.06,459.84 L980.77,459.76 L982.48,459.68 L984.18,459.6 L985.89,459.52 L987.6,459.44 L989.3,459.37 L991.01,459.29 L992.72,459.21 L994.43,459.13 L996.13,459.06 L997.84,458.98 L999.55,458.9 L1001.25,458.83 L1002.96,458.75 L1004.67,458.67 L1006.37,458.6 L1008.08,458.52 L1009.79,458.45 L1011.49,458.37 L1013.2,458.29 L1014.91,458.22 L1016.61,458.14 L1018.32,458.06 L1020.03,457.99 L1021.73,457.91 L1023.44,457.83 L1025.15,457.76 L1026.85,457.68 L1028.56,457.6 L1030.27,457.52 L1031.97,457.45 L1033.68,457.37 L1035.39,457.29 L1037.09,457.21 L1038.8,457.13 L1040.51,457.05 L1042.22,456.98 L1043.92,456.9 L1045.63,456.82 L1047.34,456.74 L1049.04,456.66 L1050.75,456.57 L1052.46,456.49 L1054.16,456.41 L1055.87,456.33 L1057.58,456.25 L1059.28,456.17 L1060.99,456.08 L1062.7,456 L1064.4,455.91 L1066.11,455.83 L1067.82,455.75 L1069.52,455.66 L1071.23,455.57 L1072.94,455.49 L1074.64,455.4 L1076.35,455.31 L1078.06,455.23 L1079.76,455.14 L1081.47,455.05 L1083.18,454.96 L1084.88,454.87 L1086.59,454.78 L1088.3,454.69 L1090.01,454.59 L1091.71,454.5 L1093.42,454.41 L1095.13,454.32 L1096.83,454.22 L1098.54,454.13 L1100.25,454.03 L1101.95,453.93 L1103.66,453.84 L1105.37,453.74 L1107.07,453.64 L1108.78,453.54 L1110.49,453.44 L1112.19,453.34 L1113.9,453.24 L1115.61,453.14 L1117.31,453.03 L1119.02,452.93 L1120.73,452.82 L1122.43,452.72 L1124.14,452.61 L1125.85,452.5 L1127.55,452.4 L1129.26,452.29 L1130.97,452.18 L1132.67,452.07 L1134.38,451.95 L1136.09,451.84 L1137.8,451.73 L1139.5,451.61 L1141.21,451.5 L1142.92,451.38 L1144.62,451.26 L1146.33,451.15 L1148.04,451.03 L1149.74,450.9 L1151.45,450.78 L1153.16,450.66 L1154.86,450.54 L1156.57,450.41 L1158.28,450.28 L1159.98,450.16 L1161.69,450.03 L1163.4,449.9 L1165.1,449.77 L1166.81,449.64 L1168.52,449.5 L1170.22,449.37 L1171.93,449.23 L1173.64,449.09 L1175.34,448.96 L1177.05,448.81 L1178.76,448.67 L1180.46,448.53 L1182.17,448.39 L1183.88,448.24 L1185.59,448.09 L1187.29,447.95 L1189,447.8 L1190.71,447.64 L1192.41,447.49 L1194.12,447.34 L1195.83,447.18 L1197.53,447.02 L1199.24,446.86 L1200.95,446.7 L1202.65,446.54 L1204.36,446.37 L1206.07,446.21 L1207.77,446.04 L1209.48,445.87 L1211.19,445.7 L1212.89,445.52 L1214.6,445.35 L1216.31,445.17 L1218.01,444.99 L1219.72,444.81 L1221.43,444.62 L1223.13,444.44 L1224.84,444.25 L1226.55,444.06 L1228.25,443.87 L1229.96,443.67 L1231.67,443.48 L1233.38,443.28 L1235.08,443.08 L1236.79,442.87 L1238.5,442.67 L1240.2,442.46 L1241.91,442.25 L1243.62,442.03 L1245.32,441.82 L1247.03,441.6 L1248.74,441.38 L1250.44,441.15 L1252.15,440.92 L1253.86,440.69 L1255.56,440.46 L1257.27,440.22 L1258.98,439.98 L1260.68,439.74 L1262.39,439.5 L1264.1,439.25 L1265.8,439 L1267.51,438.74 L1269.22,438.48 L1270.92,438.22 L1272.63,437.95 L1274.34,437.68 L1276.04,437.41 L1277.75,437.13 L1279.46,436.85 L1281.17,436.57 L1282.87,436.28 L1284.58,435.98 L1286.29,435.69 L1287.99,435.39 L1289.7,435.08 L1291.41,434.77 L1293.11,434.45 L1294.82,434.13 L1296.53,433.81 L1298.23,433.48 L1299.94,433.14 L1301.65,432.8 L1303.35,432.46 L1305.06,432.11 L1306.77,431.75 L1308.47,431.39 L1310.18,431.02 L1311.89,430.65 L1313.59,430.27 L1315.3,429.88 L1317.01,429.49 L1318.71,429.09 L1320.42,428.69 L1322.13,428.27 L1323.83,427.85 L1325.54,427.43 L1327.25,426.99 L1328.96,426.55 L1330.66,426.1 L1332.37,425.64 L1334.08,425.18 L1335.78,424.7 L1337.49,424.22 L1339.2,423.73 L1340.9,423.22 L1342.61,422.71 L1344.32,422.19 L1346.02,421.66 L1347.73,421.12 L1349.44,420.57 L1351.14,420 L1352.85,419.43 L1354.56,418.84 L1356.26,418.25 L1357.97,417.64 L1359.68,417.01 L1361.38,416.38 L1363.09,415.73 L1364.8,415.06 L1366.5,414.38 L1368.21,413.69 L1369.92,412.98 L1371.62,412.26 L1373.33,411.52 L1375.04,410.76 L1376.75,409.98 L1378.45,409.19 L1380.16,408.37 L1381.87,407.54 L1383.57,406.69 L1385.28,405.81 L1386.99,404.91 L1388.69,404 L1390.4,403.05 L1392.11,402.08 L1393.81,401.09 L1395.52,400.07 L1397.23,399.02 L1398.93,397.95 L1400.64,396.84 L1402.35,395.7 L1404.05,394.53 L1405.76,393.32 L1407.47,392.08 L1409.17,390.81 L1410.88,389.49 L1412.59,388.13 L1414.29,386.73 L1416,385.29 L1417.71,383.79 L1419.41,382.25 L1421.12,380.66 L1422.83,379.01 L1424.54,377.31 L1426.24,375.54 L1427.95,373.71 L1429.66,371.82 L1431.36,369.85 L1433.07,367.81 L1434.78,365.69 L1436.48,363.49 L1438.19,361.2 L1439.9,358.81 L1441.6,356.32 L1443.31,353.73 L1443.46,353.5 L1443.6,353.27 L1443.75,353.04 L1443.89,352.81 L1444.04,352.58 L1444.19,352.35 L1444.33,352.12 L1444.48,351.89 L1444.62,351.65 L1444.77,351.42 L1444.92,351.18 L1445.06,350.95 L1445.21,350.71 L1445.36,350.47 L1445.5,350.23 L1445.65,349.99 L1445.79,349.75 L1445.94,349.51 L1446.09,349.26 L1446.23,349.02 L1446.38,348.78 L1446.52,348.53 L1446.67,348.28 L1446.82,348.03 L1446.96,347.79 L1447.11,347.54 L1447.25,347.29 L1447.4,347.03 L1447.55,346.78 L1447.69,346.53 L1447.84,346.27 L1447.98,346.02 L1448.13,345.76 L1448.28,345.5 L1448.42,345.25 L1448.57,344.99 L1448.72,344.73 L1448.86,344.46 L1449.01,344.2 L1449.15,343.94 L1449.3,343.67 L1449.45,343.41 L1449.59,343.14 L1449.74,342.87 L1449.88,342.6 L1450.03,342.33 L1450.18,342.06 L1450.32,341.79 L1450.47,341.52 L1450.61,341.24 L1450.76,340.97 L1450.91,340.69 L1451.05,340.41 L1451.2,340.13 L1451.34,339.85 L1451.49,339.57 L1451.64,339.29 L1451.78,339.01 L1451.93,338.72 L1452.08,338.44 L1452.22,338.15 L1452.37,337.86 L1452.51,337.57 L1452.66,337.28 L1452.81,336.99 L1452.95,336.7 L1453.1,336.4 L1453.24,336.11 L1453.39,335.81 L1453.54,335.51 L1453.68,335.21 L1453.83,334.91 L1453.97,334.61 L1454.12,334.31 L1454.27,334 L1454.41,333.7 L1454.56,333.39 L1454.71,333.08 L1454.85,332.77 L1455,332.46 L1455.14,332.15 L1455.29,331.84 L1455.44,331.52 L1455.58,331.2 L1455.73,330.89 L1455.87,330.57 L1456.02,330.25 L1456.17,329.92 L1456.31,329.6 L1456.46,329.28 L1456.6,328.95 L1456.75,328.62 L1456.9,328.29 L1457.04,327.96 L1457.19,327.63 L1457.33,327.3 L1457.48,326.96 L1457.63,326.63 L1457.77,326.29 L1457.92,325.95 L1458.07,325.61 L1458.21,325.26 L1458.36,324.92 L1458.5,324.58 L1458.65,324.23 L1458.8,323.88 L1458.94,323.53 L1459.09,323.18 L1459.23,322.82 L1459.38,322.47 L1459.53,322.11 L1459.67,321.75 L1459.82,321.39 L1459.96,321.03 L1460.11,320.67 L1460.26,320.3 L1460.4,319.93 L1460.55,319.56 L1460.69,319.19 L1460.84,318.82 L1460.99,318.45 L1461.13,318.07 L1461.28,317.69 L1461.43,317.32 L1461.57,316.93 L1461.72,316.55 L1461.86,316.17 L1462.01,315.78 L1462.16,315.39 L1462.3,315 L1462.45,314.61 L1462.59,314.21 L1462.74,313.82 L1462.89,313.42 L1463.03,313.02 L1463.18,312.62 L1463.32,312.21 L1463.47,311.81 L1463.62,311.4 L1463.76,310.99 L1463.91,310.58 L1464.05,310.16 L1464.2,309.75 L1464.35,309.33 L1464.49,308.91 L1464.64,308.49 L1464.79,308.06 L1464.93,307.64 L1465.08,307.21 L1465.22,306.78 L1465.37,306.34 L1465.52,305.91 L1465.66,305.47 L1465.81,305.03 L1465.95,304.59 L1466.1,304.14 L1466.25,303.7 L1466.39,303.25 L1466.54,302.8 L1466.68,302.34 L1466.83,301.89 L1466.98,301.43 L1467.12,300.97 L1467.27,300.51 L1467.41,300.04 L1467.56,299.57 L1467.71,299.1 L1467.85,298.63 L1468,298.15 L1468.15,297.67 L1468.29,297.19 L1468.44,296.71 L1468.58,296.22 L1468.73,295.74 L1468.88,295.25 L1469.02,294.75 L1469.17,294.25 L1469.31,293.76 L1469.46,293.25 L1469.61,292.75 L1469.75,292.24 L1469.9,291.73 L1470.04,291.22 L1470.19,290.7 L1470.34,290.18 L1470.48,289.66 L1470.63,289.14 L1470.77,288.61 L1470.92,288.08 L1471.07,287.55 L1471.21,287.01 L1471.36,286.47 L1471.51,285.93 L1471.65,285.38 L1471.8,284.83 L1471.94,284.28 L1472.09,283.72 L1472.24,283.17 L1472.38,282.6 L1472.53,282.04 L1472.67,281.47 L1472.82,280.9 L1472.97,280.32 L1473.11,279.75 L1473.26,279.16 L1473.4,278.58 L1473.55,277.99 L1473.7,277.4 L1473.84,276.8 L1473.99,276.2 L1474.14,275.6 L1474.28,275 L1474.43,274.39 L1474.57,273.77 L1474.72,273.15 L1474.87,272.53 L1475.01,271.91 L1475.16,271.28 L1475.3,270.65 L1475.45,270.01 L1475.6,269.37 L1475.74,268.72 L1475.89,268.08 L1476.03,267.42 L1476.18,266.77 L1476.33,266.11 L1476.47,265.44 L1476.62,264.77 L1476.76,264.1 L1476.91,263.42 L1477.06,262.74 L1477.2,262.05 L1477.35,261.36 L1477.5,260.67 L1477.64,259.97 L1477.79,259.26 L1477.93,258.55 L1478.08,257.84 L1478.23,257.12 L1478.37,256.4 L1478.52,255.67 L1478.66,254.94 L1478.81,254.2 L1478.96,253.46 L1479.1,252.71 L1479.25,251.96 L1479.39,251.2 L1479.54,250.44 L1479.69,249.67 L1479.83,248.9 L1479.98,248.12 L1480.12,247.34 L1480.27,246.55 L1480.42,245.76 L1480.56,244.96 L1480.71,244.15 L1480.86,243.34 L1481,242.53 L1481.15,241.7 L1481.29,240.88 L1481.44,240.04 L1481.59,239.2 L1481.73,238.36 L1481.88,237.51 L1482.02,236.65 L1482.17,235.78 L1482.32,234.91 L1482.46,234.04 L1482.61,233.15 L1482.75,232.27 L1482.9,231.37 L1483.05,230.47 L1483.19,229.56 L1483.34,228.64 L1483.48,227.72 L1483.63,226.79 L1483.78,225.85 L1483.92,224.91 L1484.07,223.96 L1484.22,223 L1484.36,222.04 L1484.51,221.07 L1484.65,220.09 L1484.8,219.1 L1484.95,218.11 L1485.09,217.1 L1485.24,216.09 L1485.38,215.07 L1485.53,214.05 L1485.68,213.01 L1485.82,211.97 L1485.97,210.92 L1486.11,209.86 L1486.26,208.8 L1486.41,207.72 L1486.55,206.63 L1486.7,205.54 L1486.84,204.44 L1486.99,203.33 L1487.14,202.21 L1487.28,201.08 L1487.43,199.94 L1487.58,198.79 L1487.72,197.63 L1487.87,196.47 L1488.01,195.29 L1488.16,194.1 L1488.31,192.9 L1488.45,191.7 L1488.6,190.48 L1488.74,189.25 L1488.89,188.01 L1489.04,186.76 L1489.18,185.5 L1489.33,184.23 L1489.47,182.95 L1489.62,181.66 L1489.77,180.35 L1489.91,179.03 L1490.06,177.71 L1490.2,176.37 L1490.35,175.01 L1490.5,173.65 L1490.64,172.27 L1490.79,170.88 L1490.94,169.48 L1491.08,168.07 L1491.23,166.64 L1491.37,165.2 L1491.52,163.74 L1491.67,162.27 L1491.81,160.79 L1491.96,159.29 L1492.1,157.78 L1492.25,156.26 L1492.4,154.72 L1492.54,153.16 L1492.69,151.59 L1492.83,150.01 L1492.98,148.41 L1493.13,146.79 L1493.27,145.16 L1493.42,143.51 L1493.57,141.85 L1493.71,140.17 L1493.86,138.47 L1494,136.75 L1494.15,135.02 L1494.3,133.27 L1494.44,131.5 L1494.59,129.72 L1494.73,127.91 L1494.88,126.09 L1495.03,124.24 L1495.17,122.38 L1495.32,120.5 L1495.46,118.59 L1495.61,116.67 L1495.76,114.73 L1495.9,112.76 L1496.05,110.78 L1496.19,108.77 L1496.34,106.74 L1496.49,104.68 L1496.63,102.61 L1496.78,100.51 L1496.93,98.39 L1497.07,96.24 L1497.22,94.07 L1497.36,91.87 L1497.51,89.65 L1497.66,87.4 L1497.8,85.13 L1497.95,82.83 L1498.09,80.5 L1498.24,78.15 L1498.39,75.77 L1498.53,73.35 L1498.68,70.91 L1498.82,68.44 L1498.97,65.94 L1499.12,63.41 L1499.26,60.85 L1499.41,58.25 L1499.55,55.63 L1499.7,52.97 L1499.85,50.27 L1499.99,47.54 L1500.14,44.78 L1500.29,41.98 L1500.43,39.15 L1500.58,36.27 L1500.72,33.36 L1500.87,30.41 L1501.02,27.42 L1501.16,24.39 L1501.31,21.32 L1501.45,18.21 L1501.6,15.1" fill="none" stroke="#ff4500" stroke-width="2.15" stroke-linejoin="round" stroke-linecap="butt"/>
<path d="M921.3,448.7 L924.6,459.5 L926.9,444.9 L930.2,444 L931.2,441.31 L932.2,438.72 L933.21,436.22 L934.21,433.87 L935.21,431.72 L936.21,429.47 L937.21,426.88 L938.21,423.92 L939.22,420.66 L940.22,417.18 L941.22,413.28 L942.22,409.1 L943.22,405.01 L944.22,401.11 L945.23,397.06 L946.23,392.51 L947.23,387.4 L948.23,382.2 L949.23,376.91 L950.24,371.52 L951.24,366.07 L952.24,360.54 L953.24,354.93 L954.24,349.28 L955.24,343.63 L956.25,338 L957.25,332.35 L958.25,326.64 L959.25,320.82 L960.25,314.87 L961.25,308.87 L962.26,302.93 L963.26,297.07 L964.26,291.24 L965.26,285.5 L966.26,279.93 L967.26,274.52 L968.27,269.25 L969.27,264.13 L970.27,259.19 L971.27,254.44 L972.27,249.86 L973.28,245.4 L974.28,241.04 L975.28,236.8 L976.28,232.67 L977.28,228.63 L978.28,224.68 L979.29,220.81 L980.29,217.03 L981.29,213.33 L982.29,209.69 L983.29,206.14 L984.29,202.69 L985.3,199.39 L986.3,196.17 L987.3,193.03 L988.3,190.04 L989.3,187.24 L990.31,184.68 L991.31,182.28 L992.31,180.02 L993.31,177.89 L994.31,175.88 L995.31,173.95 L996.32,172.12 L997.32,170.39 L998.32,168.78 L999.32,167.28 L1000.32,165.85 L1001.32,164.49 L1002.33,163.21 L1003.33,162.03 L1004.33,160.97 L1005.33,160.02 L1006.33,159.14 L1007.34,158.33 L1008.34,157.57 L1009.34,156.86 L1010.34,156.17 L1011.34,155.51 L1012.34,154.89 L1013.35,154.29 L1014.35,153.74 L1015.35,153.22 L1016.35,152.74 L1017.35,152.28 L1018.35,151.84 L1019.36,151.44 L1020.36,151.07 L1021.36,150.75 L1022.36,150.45 L1023.36,150.17 L1024.36,149.89 L1025.37,149.63 L1026.37,149.38 L1027.37,149.14 L1028.37,148.92 L1029.37,148.72 L1030.38,148.54 L1031.38,148.37 L1032.38,148.22 L1033.38,148.08 L1034.38,147.95 L1035.38,147.83 L1036.39,147.72 L1037.39,147.61 L1038.39,147.51 L1039.39,147.42 L1040.39,147.34 L1041.39,147.26 L1042.4,147.18 L1043.4,147.12 L1044.4,147.06 L1045.4,147 L1046.4,146.94 L1047.41,146.89 L1048.41,146.84 L1049.41,146.79 L1050.41,146.75 L1051.41,146.71 L1052.41,146.67 L1053.42,146.64 L1054.42,146.61 L1055.42,146.59 L1056.42,146.57 L1057.42,146.55 L1058.42,146.53 L1059.43,146.51 L1060.43,146.49 L1061.43,146.48 L1062.43,146.46 L1063.43,146.45 L1064.44,146.43 L1065.44,146.42 L1066.44,146.41 L1067.44,146.39 L1068.44,146.38 L1069.44,146.37 L1070.45,146.36 L1071.45,146.35 L1072.45,146.34 L1073.45,146.33 L1074.45,146.32 L1075.45,146.31 L1076.46,146.31 L1077.46,146.3 L1078.46,146.29 L1079.46,146.29 L1080.46,146.28 L1081.46,146.27 L1082.47,146.27 L1083.47,146.26 L1084.47,146.26 L1085.47,146.25 L1086.47,146.25 L1087.48,146.24 L1088.48,146.24 L1089.48,146.23 L1090.48,146.23 L1091.48,146.22 L1092.48,146.22 L1093.49,146.22 L1094.49,146.21 L1095.49,146.21 L1096.49,146.21 L1097.49,146.21 L1098.49,146.2 L1099.5,146.2 L1100.5,146.2 L1101.5,146.2 L1102.5,146.2 L1103.5,146.19 L1104.51,146.19 L1105.51,146.19 L1106.51,146.19 L1107.51,146.19 L1108.51,146.19 L1109.51,146.18 L1110.52,146.18 L1111.52,146.18 L1112.52,146.18 L1113.52,146.18 L1114.52,146.18 L1115.52,146.17 L1116.53,146.17 L1117.53,146.17 L1118.53,146.17 L1119.53,146.17 L1120.53,146.17 L1121.54,146.17 L1122.54,146.16 L1123.54,146.16 L1124.54,146.16 L1125.54,146.16 L1126.54,146.16 L1127.55,146.16 L1128.55,146.16 L1129.55,146.15 L1130.55,146.15 L1131.55,146.15 L1132.55,146.15 L1133.56,146.15 L1134.56,146.15 L1135.56,146.15 L1136.56,146.15 L1137.56,146.14 L1138.56,146.14 L1139.57,146.14 L1140.57,146.14 L1141.57,146.14 L1142.57,146.14 L1143.57,146.14 L1144.58,146.14 L1145.58,146.14 L1146.58,146.13 L1147.58,146.13 L1148.58,146.13 L1149.58,146.13 L1150.59,146.13 L1151.59,146.13 L1152.59,146.13 L1153.59,146.13 L1154.59,146.13 L1155.59,146.13 L1156.6,146.12 L1157.6,146.12 L1158.6,146.12 L1159.6,146.12 L1160.6,146.12 L1161.61,146.12 L1162.61,146.12 L1163.61,146.12 L1164.61,146.12 L1165.61,146.12 L1166.61,146.12 L1167.62,146.12 L1168.62,146.11 L1169.62,146.11 L1170.62,146.11 L1171.62,146.11 L1172.62,146.11 L1173.63,146.11 L1174.63,146.11 L1175.63,146.11 L1176.63,146.11 L1177.63,146.11 L1178.64,146.11 L1179.64,146.11 L1180.64,146.11 L1181.64,146.11 L1182.64,146.11 L1183.64,146.11 L1184.65,146.11 L1185.65,146.11 L1186.65,146.1 L1187.65,146.1 L1188.65,146.1 L1189.65,146.1 L1190.66,146.1 L1191.66,146.1 L1192.66,146.1 L1193.66,146.1 L1194.66,146.1 L1195.66,146.1 L1196.67,146.1 L1197.67,146.1 L1198.67,146.1 L1199.67,146.1 L1200.67,146.1 L1201.68,146.1 L1202.68,146.1 L1203.68,146.1 L1204.68,146.1 L1205.68,146.1 L1206.68,146.1 L1207.69,146.1 L1208.69,146.1 L1209.69,146.1 L1210.69,146.1 L1211.69,146.1 L1212.69,146.1 L1213.7,146.1 L1214.7,146.1 L1215.7,146.1 L1216.7,146.1 L1217.7,146.1 L1218.71,146.1 L1219.71,146.1 L1220.71,146.1 L1221.71,146.1 L1222.71,146.1 L1223.71,146.1 L1224.72,146.1 L1225.72,146.1 L1226.72,146.1 L1227.72,146.1 L1228.72,146.1 L1229.72,146.1 L1230.73,146.1 L1231.73,146.1 L1232.73,146.11 L1233.73,146.11 L1234.73,146.11 L1235.74,146.11 L1236.74,146.11 L1237.74,146.11 L1238.74,146.11 L1239.74,146.11 L1240.74,146.11 L1241.75,146.11 L1242.75,146.11 L1243.75,146.11 L1244.75,146.11 L1245.75,146.11 L1246.75,146.11 L1247.76,146.11 L1248.76,146.12 L1249.76,146.12 L1250.76,146.12 L1251.76,146.12 L1252.76,146.12 L1253.77,146.12 L1254.77,146.12 L1255.77,146.12 L1256.77,146.12 L1257.77,146.12 L1258.78,146.12 L1259.78,146.13 L1260.78,146.13 L1261.78,146.13 L1262.78,146.13 L1263.78,146.13 L1264.79,146.13 L1265.79,146.13 L1266.79,146.13 L1267.79,146.14 L1268.79,146.14 L1269.79,146.14 L1270.8,146.14 L1271.8,146.14 L1272.8,146.14 L1273.8,146.14 L1274.8,146.14 L1275.81,146.15 L1276.81,146.15 L1277.81,146.15 L1278.81,146.15 L1279.81,146.15 L1280.81,146.15 L1281.82,146.16 L1282.82,146.16 L1283.82,146.16 L1284.82,146.16 L1285.82,146.16 L1286.82,146.16 L1287.83,146.17 L1288.83,146.17 L1289.83,146.17 L1290.83,146.17 L1291.83,146.17 L1292.84,146.18 L1293.84,146.18 L1294.84,146.18 L1295.84,146.18 L1296.84,146.18 L1297.84,146.19 L1298.85,146.19 L1299.85,146.19 L1300.85,146.19 L1301.85,146.19 L1302.85,146.2 L1303.85,146.2 L1304.86,146.2 L1305.86,146.2 L1306.86,146.21 L1307.86,146.21 L1308.86,146.21 L1309.86,146.21 L1310.87,146.21 L1311.87,146.22 L1312.87,146.22 L1313.87,146.22 L1314.87,146.23 L1315.88,146.23 L1316.88,146.23 L1317.88,146.23 L1318.88,146.24 L1319.88,146.24 L1320.88,146.24 L1321.89,146.24 L1322.89,146.25 L1323.89,146.25 L1324.89,146.25 L1325.89,146.26 L1326.89,146.26 L1327.9,146.26 L1328.9,146.26 L1329.9,146.27 L1330.9,146.27 L1331.9,146.27 L1332.91,146.28 L1333.91,146.28 L1334.91,146.28 L1335.91,146.29 L1336.91,146.29 L1337.91,146.29 L1338.92,146.3 L1339.92,146.3 L1340.92,146.3 L1341.92,146.31 L1342.92,146.31 L1343.92,146.32 L1344.93,146.33 L1345.93,146.34 L1346.93,146.35 L1347.93,146.36 L1348.93,146.37 L1349.94,146.38 L1350.94,146.4 L1351.94,146.41 L1352.94,146.43 L1353.94,146.44 L1354.94,146.46 L1355.95,146.48 L1356.95,146.49 L1357.95,146.51 L1358.95,146.53 L1359.95,146.55 L1360.95,146.57 L1361.96,146.59 L1362.96,146.61 L1363.96,146.63 L1364.96,146.66 L1365.96,146.69 L1366.96,146.72 L1367.97,146.76 L1368.97,146.79 L1369.97,146.83 L1370.97,146.87 L1371.97,146.92 L1372.98,146.96 L1373.98,147.01 L1374.98,147.06 L1375.98,147.12 L1376.98,147.18 L1377.98,147.25 L1378.99,147.32 L1379.99,147.4 L1380.99,147.47 L1381.99,147.55 L1382.99,147.64 L1383.99,147.72 L1385,147.8 L1386,147.88 L1387,147.96 L1388,148.05 L1389,148.13 L1390.01,148.22 L1391.01,148.31 L1392.01,148.41 L1393.01,148.51 L1394.01,148.62 L1395.01,148.74 L1396.02,148.87 L1397.02,149.01 L1398.02,149.18 L1399.02,149.38 L1400.02,149.59 L1401.02,149.81 L1402.03,150.03 L1403.03,150.26 L1404.03,150.48 L1405.03,150.7 L1406.03,150.93 L1407.04,151.17 L1408.04,151.42 L1409.04,151.69 L1410.04,151.99 L1411.04,152.31 L1412.04,152.66 L1413.05,153.03 L1414.05,153.43 L1415.05,153.85 L1416.05,154.29 L1417.05,154.76 L1418.05,155.28 L1419.06,155.83 L1420.06,156.41 L1421.06,157.03 L1422.06,157.69 L1423.06,158.37 L1424.06,159.08 L1425.07,159.84 L1426.07,160.65 L1427.07,161.5 L1428.07,162.4 L1429.07,163.36 L1430.08,164.38 L1431.08,165.47 L1432.08,166.65 L1433.08,167.92 L1434.08,169.3 L1435.08,170.79 L1436.09,172.41 L1437.09,174.22 L1438.09,176.22 L1439.09,178.37 L1440.09,180.65 L1441.09,183.02 L1442.1,185.53 L1443.1,188.23 L1444.1,191.09 L1445.1,194.09 L1446.1,197.21 L1447.11,200.41 L1448.11,203.71 L1449.11,207.14 L1450.11,210.72 L1451.11,214.47 L1452.11,218.42 L1453.12,222.61 L1454.12,227.13 L1455.12,231.93 L1456.12,236.95 L1457.12,242.15 L1458.12,247.73 L1459.13,253.64 L1460.13,259.58 L1461.13,265.28 L1462.13,270.76 L1463.13,276.13 L1464.14,281.45 L1465.14,286.75 L1466.14,291.95 L1467.14,297.14 L1468.14,302.48 L1469.14,307.95 L1470.15,313.48 L1471.15,319.02 L1472.15,324.5 L1473.15,329.94 L1474.15,335.37 L1475.15,340.82 L1476.16,346.31 L1477.16,351.86 L1478.16,357.46 L1479.16,363.06 L1480.16,368.61 L1481.16,374.13 L1482.17,379.76 L1483.17,385.18 L1484.17,390.02 L1485.17,394.24 L1486.17,398.12 L1487.18,401.9 L1488.18,405.7 L1489.18,409.43 L1490.18,413.08 L1491.18,416.63 L1492.18,420.15 L1493.19,423.54 L1494.19,426.66 L1495.19,429.49 L1496.19,432.13 L1497.19,434.65 L1498.19,437.08 L1499.2,439.42 L1500.2,441.67 L1501.2,443.8" fill="none" stroke="#0f62fa" stroke-width="2.15" stroke-linejoin="round" stroke-linecap="butt"/>
<path d="M918.7,477.2 v-7 M918.7,15.1 v7 M976.99,477.2 v-7 M976.99,15.1 v7 M1035.28,477.2 v-7 M1035.28,15.1 v7 M1093.57,477.2 v-7 M1093.57,15.1 v7 M1151.86,477.2 v-7 M1151.86,15.1 v7 M1210.15,477.2 v-7 M1210.15,15.1 v7 M1268.44,477.2 v-7 M1268.44,15.1 v7 M1326.73,477.2 v-7 M1326.73,15.1 v7 M1385.02,477.2 v-7 M1385.02,15.1 v7 M1443.31,477.2 v-7 M1443.31,15.1 v7 M1501.6,477.2 v-7 M1501.6,15.1 v7" stroke="#000" stroke-width="1.0" fill="none"/>
<path d="M918.7,477.2 h7 M918.7,425.86 h7 M918.7,374.51 h7 M918.7,323.17 h7 M918.7,271.82 h7 M918.7,220.48 h7 M918.7,169.13 h7 M918.7,117.79 h7 M918.7,66.44 h7 M918.7,15.1 h7" stroke="#000" stroke-width="1.0" fill="none"/>
<path d="M1501.6,477.2 h-7 M1501.6,400.18 h-7 M1501.6,323.17 h-7 M1501.6,246.15 h-7 M1501.6,169.13 h-7 M1501.6,92.12 h-7 M1501.6,15.1 h-7" stroke="#000" stroke-width="1.0" fill="none"/>
<rect x="918.7" y="15.1" width="582.9" height="462.1" fill="none" stroke="#000" stroke-width="1.35"/>
<text transform="translate(921.7,500.8) scale(1,1.05)" font-size="22" text-anchor="middle">0</text>
<g transform="translate(979.99,500.8) scale(1,1.05)">
<text font-size="22" text-anchor="middle">0.1</text>
<path d="M3.72,-2.75h4.72v4.4h-4.72z M10.66,-2.75h4.73v4.4h-4.73z" fill="#fff"/>
</g>
<text transform="translate(1038.28,500.8) scale(1,1.05)" font-size="22" text-anchor="middle">0.2</text>
<text transform="translate(1096.57,500.8) scale(1,1.05)" font-size="22" text-anchor="middle">0.3</text>
<text transform="translate(1154.86,500.8) scale(1,1.05)" font-size="22" text-anchor="middle">0.4</text>
<text transform="translate(1213.15,500.8) scale(1,1.05)" font-size="22" text-anchor="middle">0.5</text>
<text transform="translate(1271.44,500.8) scale(1,1.05)" font-size="22" text-anchor="middle">0.6</text>
<text transform="translate(1329.73,500.8) scale(1,1.05)" font-size="22" text-anchor="middle">0.7</text>
<text transform="translate(1388.02,500.8) scale(1,1.05)" font-size="22" text-anchor="middle">0.8</text>
<text transform="translate(1446.31,500.8) scale(1,1.05)" font-size="22" text-anchor="middle">0.9</text>
<g transform="translate(1504.6,500.8) scale(1,1.05)">
<text font-size="22" text-anchor="middle">1</text>
<path d="M-5.46,-2.75h4.72v4.4h-4.72z M1.48,-2.75h4.73v4.4h-4.73z" fill="#fff"/>
</g>
<text transform="translate(908.9,484.5) scale(1,1.05)" font-size="22" text-anchor="end">0</text>
<g transform="translate(908.9,433.16) scale(1,1.05)">
<text font-size="22" text-anchor="end">10</text>
<path d="M-23.81,-2.75h4.72v4.4h-4.72z M-16.87,-2.75h4.73v4.4h-4.73z" fill="#fff"/>
</g>
<text transform="translate(908.9,381.81) scale(1,1.05)" font-size="22" text-anchor="end">20</text>
<text transform="translate(908.9,330.47) scale(1,1.05)" font-size="22" text-anchor="end">30</text>
<text transform="translate(908.9,279.12) scale(1,1.05)" font-size="22" text-anchor="end">40</text>
<text transform="translate(908.9,227.78) scale(1,1.05)" font-size="22" text-anchor="end">50</text>
<text transform="translate(908.9,176.43) scale(1,1.05)" font-size="22" text-anchor="end">60</text>
<text transform="translate(908.9,125.09) scale(1,1.05)" font-size="22" text-anchor="end">70</text>
<text transform="translate(908.9,73.74) scale(1,1.05)" font-size="22" text-anchor="end">80</text>
<text transform="translate(908.9,22.4) scale(1,1.05)" font-size="22" text-anchor="end">90</text>
<text transform="translate(1516.8,484.5) scale(1,1.05)" font-size="22" text-anchor="start">0</text>
<text transform="translate(1516.8,407.48) scale(1,1.05)" font-size="22" text-anchor="start">0.5</text>
<g transform="translate(1516.8,330.47) scale(1,1.05)">
<text font-size="22" text-anchor="start">1</text>
<path d="M0.66,-2.75h4.72v4.4h-4.72z M7.6,-2.75h4.73v4.4h-4.73z" fill="#fff"/>
</g>
<g transform="translate(1516.8,253.45) scale(1,1.05)">
<text font-size="22" text-anchor="start">1.5</text>
<path d="M0.66,-2.75h4.72v4.4h-4.72z M7.6,-2.75h4.73v4.4h-4.73z" fill="#fff"/>
</g>
<text transform="translate(1516.8,176.43) scale(1,1.05)" font-size="22" text-anchor="start">2</text>
<text transform="translate(1516.8,99.42) scale(1,1.05)" font-size="22" text-anchor="start">2.5</text>
<text transform="translate(1516.8,22.4) scale(1,1.05)" font-size="22" text-anchor="start">3</text>
<text transform="translate(1210.1,525.9) scale(1,1.05)" font-size="26.2" text-anchor="middle">ρ</text>
<text transform="translate(872.3,245.6) rotate(-90) scale(1,1.05)" font-size="26.2" text-anchor="middle"><tspan>R/L</tspan><tspan font-size="20.96" dy="7.86">T</tspan></text>
<text transform="translate(1581.3,245.5) rotate(-90) scale(1,1.05)" font-size="26.2" text-anchor="middle"><tspan>R/L</tspan><tspan font-size="20.96" dy="7.86">n</tspan></text>
<text transform="translate(1405.8,41.4) scale(1,1.05)" font-size="22" text-anchor="end"><tspan>ion temperature gradient  R/L</tspan><tspan font-size="17.6" dy="6.6">T</tspan></text>
<path d="M1419.2,36.2 H1479.3" stroke="#ff4500" stroke-width="2.15" fill="none"/>
<text transform="translate(1405.8,71.2) scale(1,1.05)" font-size="22" text-anchor="end">electron density gradient R/Ln</text>
<path d="M1419.2,64.8 H1479.3" stroke="#0f62fa" stroke-width="2.15" fill="none"/>
<text y="79.4" stroke="#fff"><tspan x="831.85" dy="0.7" font-size="44.5" stroke-width="0.4" textLength="12.61" lengthAdjust="spacingAndGlyphs">(</tspan><tspan x="848.18" dy="-0.7" font-size="38.6" stroke-width="0.1" textLength="18.99" lengthAdjust="spacingAndGlyphs">b</tspan><tspan x="870.17" dy="0.7" font-size="44.5" stroke-width="0.4" textLength="12.49" lengthAdjust="spacingAndGlyphs">)</tspan></text>
</g>
<g id="panel-c">
<path d="M114.27,959.47 L115.57,959.46 L116.87,959.44 L118.18,959.43 L119.48,959.41 L120.78,959.39 L122.08,959.38 L123.39,959.36 L124.69,959.34 L125.99,959.31 L127.3,959.29 L128.6,959.27 L129.9,959.24 L131.2,959.22 L132.51,959.19 L133.81,959.16 L135.11,959.14 L136.42,959.11 L137.72,959.08 L139.02,959.04 L140.32,959.01 L141.63,958.98 L142.93,958.94 L144.23,958.91 L145.54,958.87 L146.84,958.84 L148.14,958.8 L149.44,958.76 L150.75,958.72 L152.05,958.68 L153.35,958.64 L154.66,958.59 L155.96,958.55 L157.26,958.51 L158.56,958.46 L159.87,958.41 L161.17,958.37 L162.47,958.32 L163.78,958.27 L165.08,958.22 L166.38,958.17 L167.68,958.12 L168.99,958.06 L170.29,958.01 L171.59,957.95 L172.9,957.9 L174.2,957.84 L175.5,957.78 L176.8,957.73 L178.11,957.67 L179.41,957.61 L180.71,957.54 L182.02,957.48 L183.32,957.42 L184.62,957.36 L185.92,957.29 L187.23,957.22 L188.53,957.16 L189.83,957.09 L191.14,957.02 L192.44,956.95 L193.74,956.88 L195.05,956.81 L196.35,956.74 L197.65,956.66 L198.95,956.59 L200.26,956.51 L201.56,956.44 L202.86,956.36 L204.17,956.28 L205.47,956.2 L206.77,956.12 L208.07,956.04 L209.38,955.96 L210.68,955.88 L211.98,955.79 L213.29,955.71 L214.59,955.62 L215.89,955.53 L217.19,955.44 L218.5,955.36 L219.8,955.27 L221.1,955.17 L222.41,955.08 L223.71,954.99 L225.01,954.89 L226.31,954.8 L227.62,954.7 L228.92,954.6 L230.22,954.51 L231.53,954.41 L232.83,954.3 L234.13,954.2 L235.43,954.1 L236.74,954 L238.04,953.89 L239.34,953.78 L240.65,953.68 L241.95,953.57 L243.25,953.46 L244.55,953.35 L245.86,953.23 L247.16,953.12 L248.46,953.01 L249.77,952.89 L251.07,952.77 L252.37,952.66 L253.67,952.54 L254.98,952.42 L256.28,952.3 L257.58,952.17 L258.89,952.05 L260.19,951.92 L261.49,951.8 L262.79,951.67 L264.1,951.54 L265.4,951.41 L266.7,951.28 L268.01,951.15 L269.31,951.01 L270.61,950.88 L271.91,950.74 L273.22,950.6 L274.52,950.47 L275.82,950.33 L277.13,950.18 L278.43,950.04 L279.73,949.9 L281.03,949.75 L282.34,949.6 L283.64,949.45 L284.94,949.3 L286.25,949.15 L287.55,949 L288.85,948.85 L290.15,948.69 L291.46,948.53 L292.76,948.38 L294.06,948.22 L295.37,948.06 L296.67,947.89 L297.97,947.73 L299.27,947.56 L300.58,947.4 L301.88,947.23 L303.18,947.06 L304.49,946.89 L305.79,946.71 L307.09,946.54 L308.39,946.36 L309.7,946.18 L311,946 L312.3,945.82 L313.61,945.64 L314.91,945.46 L316.21,945.27 L317.51,945.08 L318.82,944.9 L320.12,944.7 L321.42,944.51 L322.73,944.32 L324.03,944.12 L325.33,943.93 L326.64,943.73 L327.94,943.53 L329.24,943.32 L330.54,943.12 L331.85,942.92 L333.15,942.71 L334.45,942.5 L335.76,942.29 L337.06,942.07 L338.36,941.86 L339.66,941.64 L340.97,941.43 L342.27,941.21 L343.57,940.98 L344.88,940.76 L346.18,940.54 L347.48,940.31 L348.78,940.08 L350.09,939.85 L351.39,939.62 L352.69,939.38 L354,939.14 L355.3,938.91 L356.6,938.67 L357.9,938.42 L359.21,938.18 L360.51,937.93 L361.81,937.68 L363.12,937.43 L364.42,937.18 L365.72,936.93 L367.02,936.67 L368.33,936.41 L369.63,936.15 L370.93,935.89 L372.24,935.62 L373.54,935.36 L374.84,935.09 L376.14,934.82 L377.45,934.55 L378.75,934.27 L380.05,933.99 L381.36,933.71 L382.66,933.43 L383.96,933.15 L385.26,932.86 L386.57,932.57 L387.87,932.28 L389.17,931.99 L390.48,931.7 L391.78,931.4 L393.08,931.1 L394.38,930.8 L395.69,930.5 L396.99,930.19 L398.29,929.88 L399.6,929.57 L400.9,929.26 L402.2,928.94 L403.5,928.62 L404.81,928.3 L406.11,927.98 L407.41,927.66 L408.72,927.33 L410.02,927 L411.32,926.67 L412.62,926.33 L413.93,925.99 L415.23,925.65 L416.53,925.31 L417.84,924.97 L419.14,924.62 L420.44,924.27 L421.74,923.92 L423.05,923.56 L424.35,923.21 L425.65,922.85 L426.96,922.48 L428.26,922.12 L429.56,921.75 L430.86,921.38 L432.17,921.01 L433.47,920.63 L434.77,920.25 L436.08,919.87 L437.38,919.49 L438.68,919.1 L439.98,918.71 L441.29,918.32 L442.59,917.93 L443.89,917.53 L445.2,917.13 L446.5,916.73 L447.8,916.32 L449.11,915.91 L450.41,915.5 L451.71,915.09 L453.01,914.67 L454.32,914.25 L455.62,913.83 L456.92,913.4 L458.23,912.97 L459.53,912.54 L460.83,912.1 L462.13,911.67 L463.44,911.23 L464.74,910.78 L466.04,910.33 L467.35,909.88 L468.65,909.43 L469.95,908.98 L471.25,908.52 L472.56,908.05 L473.86,907.59 L475.16,907.12 L476.47,906.65 L477.77,906.18 L479.07,905.7 L480.37,905.22 L481.68,904.73 L482.98,904.25 L484.28,903.75 L485.59,903.26 L486.89,902.76 L488.19,902.26 L489.49,901.76 L490.8,901.25 L492.1,900.74 L493.4,900.23 L494.71,899.71 L496.01,899.19 L497.31,898.67 L498.61,898.14 L499.92,897.61 L501.22,897.07 L502.52,896.54 L503.83,896 L505.13,895.45 L506.43,894.9 L507.73,894.35 L509.04,893.8 L510.34,893.24 L511.64,892.67 L512.95,892.11 L514.25,891.54 L515.55,890.96 L516.85,890.39 L518.16,889.81 L519.46,889.22 L520.76,888.63 L522.07,888.04 L523.37,887.44 L524.67,886.84 L525.97,886.24 L527.28,885.63 L528.58,885.02 L529.88,884.41 L531.19,883.79 L532.49,883.16 L533.79,882.54 L535.09,881.91 L536.4,881.27 L537.7,880.63 L539,879.99 L540.31,879.34 L541.61,878.69 L542.91,878.03 L544.21,877.37 L545.52,876.71 L546.82,876.04 L548.12,875.37 L549.43,874.69 L550.73,874.01 L552.03,873.32 L553.33,872.63 L554.64,871.94 L555.94,871.24 L557.24,870.53 L558.55,869.83 L559.85,869.11 L561.15,868.4 L562.45,867.68 L563.76,866.95 L565.06,866.22 L566.36,865.48 L567.67,864.74 L568.97,864 L570.27,863.25 L571.57,862.49 L572.88,861.73 L574.18,860.97 L575.48,860.2 L576.79,859.42 L578.09,858.64 L579.39,857.86 L580.7,857.06 L582,856.27 L583.3,855.47 L584.6,854.66 L585.91,853.85 L587.21,853.03 L588.51,852.21 L589.82,851.38 L591.12,850.55 L592.42,849.71 L593.72,848.87 L595.03,848.02 L596.33,847.16 L597.63,846.3 L598.94,845.43 L600.24,844.56 L601.54,843.68 L602.84,842.79 L604.15,841.9 L605.45,841 L606.75,840.1 L608.06,839.19 L609.36,838.27 L610.66,837.34 L611.96,836.41 L613.27,835.48 L614.57,834.53 L615.87,833.58 L617.18,832.63 L618.48,831.66 L619.78,830.69 L621.08,829.71 L622.39,828.73 L623.69,827.74 L624.99,826.74 L626.3,825.73 L627.6,824.71 L628.9,823.69 L630.2,822.66 L631.51,821.62 L632.81,820.58 L634.11,819.52 L635.42,818.46 L636.72,817.39 L638.02,816.31 L639.32,815.23 L640.63,814.13 L641.93,813.03 L643.23,811.91 L644.54,810.79 L645.84,809.66 L647.14,808.52 L648.44,807.37 L649.75,806.21 L651.05,805.04 L652.35,803.87 L653.66,802.68 L654.96,801.48 L656.26,800.27 L657.56,799.05 L658.87,797.82 L660.17,796.58 L661.47,795.33 L662.78,794.07 L664.08,792.8 L665.38,791.52 L666.68,790.22 L667.99,788.91 L669.29,787.59 L670.59,786.26 L671.9,784.92 L673.2,783.56 L674.5,782.2 L675.8,780.82 L677.11,779.42 L678.41,778.01 L679.71,776.59 L681.02,775.16 L682.32,773.71 L683.62,772.25 L684.92,770.77 L686.23,769.28 L687.53,767.77 L688.83,766.25 L690.14,764.71 L691.44,763.15 L692.74,761.58 L694.04,760 L695.35,758.39 L696.65,756.77 L697.95,755.14 L699.26,753.48 L700.56,751.81 L701.86,750.12 L703.17,748.41 L704.47,746.68 L705.77,744.93 L707.07,743.17 L708.38,741.38 L709.68,739.57 L710.98,737.74 L712.29,735.89 L713.59,734.02 L714.89,732.12 L716.19,730.21 L717.5,728.27 L718.8,726.31 L720.1,724.32 L721.41,722.31 L722.71,720.27 L724.01,718.21 L725.31,716.12 L726.62,714.01 L727.92,711.87 L729.22,709.7 L730.53,707.51 L731.83,705.28 L733.13,703.03 L734.43,700.74 L735.74,698.43 L737.04,696.08 L738.34,693.71 L739.65,691.3 L740.95,688.86 L742.25,686.38 L743.55,683.87 L744.86,681.32 L746.16,678.74 L747.46,676.12 L748.77,673.46 L750.07,670.77 L751.37,668.03 L752.67,665.26 L753.98,662.44 L755.28,659.58 L756.58,656.68 L757.89,653.74 L759.19,650.75 L760.49,647.71 L761.79,644.63 L763.1,641.5 L764.4,638.31" fill="none" stroke="#ff4500" stroke-width="2.15" stroke-linejoin="round" stroke-linecap="butt"/>
<path d="M111,1028.2 v-7 M111,565.8 v7 M176.34,1028.2 v-7 M176.34,565.8 v7 M241.68,1028.2 v-7 M241.68,565.8 v7 M307.02,1028.2 v-7 M307.02,565.8 v7 M372.36,1028.2 v-7 M372.36,565.8 v7 M437.7,1028.2 v-7 M437.7,565.8 v7 M503.04,1028.2 v-7 M503.04,565.8 v7 M568.38,1028.2 v-7 M568.38,565.8 v7 M633.72,1028.2 v-7 M633.72,565.8 v7 M699.06,1028.2 v-7 M699.06,565.8 v7 M764.4,1028.2 v-7 M764.4,565.8 v7" stroke="#000" stroke-width="1.0" fill="none"/>
<path d="M111,1028.2 h7 M764.4,1028.2 h-7 M111,951.13 h7 M764.4,951.13 h-7 M111,874.07 h7 M764.4,874.07 h-7 M111,797 h7 M764.4,797 h-7 M111,719.93 h7 M764.4,719.93 h-7 M111,642.87 h7 M764.4,642.87 h-7 M111,565.8 h7 M764.4,565.8 h-7" stroke="#000" stroke-width="1.0" fill="none"/>
<rect x="111" y="565.8" width="653.4" height="462.4" fill="none" stroke="#000" stroke-width="1.35"/>
<text transform="translate(114,1051.6) scale(1,1.05)" font-size="22" text-anchor="middle">0</text>
<g transform="translate(179.34,1051.6) scale(1,1.05)">
<text font-size="22" text-anchor="middle">0.1</text>
<path d="M3.72,-2.75h4.72v4.4h-4.72z M10.66,-2.75h4.73v4.4h-4.73z" fill="#fff"/>
</g>
<text transform="translate(244.68,1051.6) scale(1,1.05)" font-size="22" text-anchor="middle">0.2</text>
<text transform="translate(310.02,1051.6) scale(1,1.05)" font-size="22" text-anchor="middle">0.3</text>
<text transform="translate(375.36,1051.6) scale(1,1.05)" font-size="22" text-anchor="middle">0.4</text>
<text transform="translate(440.7,1051.6) scale(1,1.05)" font-size="22" text-anchor="middle">0.5</text>
<text transform="translate(506.04,1051.6) scale(1,1.05)" font-size="22" text-anchor="middle">0.6</text>
<text transform="translate(571.38,1051.6) scale(1,1.05)" font-size="22" text-anchor="middle">0.7</text>
<text transform="translate(636.72,1051.6) scale(1,1.05)" font-size="22" text-anchor="middle">0.8</text>
<text transform="translate(702.06,1051.6) scale(1,1.05)" font-size="22" text-anchor="middle">0.9</text>
<g transform="translate(767.4,1051.6) scale(1,1.05)">
<text font-size="22" text-anchor="middle">1</text>
<path d="M-5.46,-2.75h4.72v4.4h-4.72z M1.48,-2.75h4.73v4.4h-4.73z" fill="#fff"/>
</g>
<text transform="translate(101.6,1035.4) scale(1,1.05)" font-size="22" text-anchor="end">0</text>
<g transform="translate(101.6,958.33) scale(1,1.05)">
<text font-size="22" text-anchor="end">1</text>
<path d="M-11.58,-2.75h4.72v4.4h-4.72z M-4.63,-2.75h4.73v4.4h-4.73z" fill="#fff"/>
</g>
<text transform="translate(101.6,881.27) scale(1,1.05)" font-size="22" text-anchor="end">2</text>
<text transform="translate(101.6,804.2) scale(1,1.05)" font-size="22" text-anchor="end">3</text>
<text transform="translate(101.6,727.13) scale(1,1.05)" font-size="22" text-anchor="end">4</text>
<text transform="translate(101.6,650.07) scale(1,1.05)" font-size="22" text-anchor="end">5</text>
<text transform="translate(101.6,573) scale(1,1.05)" font-size="22" text-anchor="end">6</text>
<text transform="translate(437.7,1076.4) scale(1,1.05)" font-size="26.2" text-anchor="middle">ρ</text>
<text transform="translate(77,797) rotate(-90) scale(1,1.05)" font-size="26.2" text-anchor="middle">q</text>
<text transform="translate(120.6,594) scale(1,1.05)" font-size="22" text-anchor="start">q</text>
<path d="M146.3,587.2 H206.4" stroke="#ff4500" stroke-width="2.15" fill="none"/>
<text y="630" stroke="#fff"><tspan x="25.22" dy="0.7" font-size="44.5" stroke-width="0.4" textLength="11.73" lengthAdjust="spacingAndGlyphs">(</tspan><tspan x="39.78" dy="-0.7" font-size="35.3" stroke-width="0.1" textLength="18.1" lengthAdjust="spacingAndGlyphs">c</tspan><tspan x="60.67" dy="0.7" font-size="44.5" stroke-width="0.4" textLength="12.61" lengthAdjust="spacingAndGlyphs">)</tspan></text>
</g>
<g id="panel-d">
<path d="M921.87,1028.8 L1572.6,1028.8" fill="none" stroke="#44beff" stroke-width="2.15" stroke-linejoin="round" stroke-linecap="butt"/>
<path d="M921.87,855.31 L923.5,855.32 L925.13,855.34 L926.76,855.36 L928.39,855.39 L930.02,855.43 L931.66,855.47 L933.29,855.52 L934.92,855.57 L936.55,855.63 L938.18,855.69 L939.81,855.77 L941.44,855.84 L943.07,855.93 L944.7,856.01 L946.33,856.11 L947.96,856.21 L949.6,856.32 L951.23,856.43 L952.86,856.55 L954.49,856.67 L956.12,856.8 L957.75,856.94 L959.38,857.08 L961.01,857.23 L962.64,857.39 L964.27,857.55 L965.9,857.72 L967.54,857.89 L969.17,858.07 L970.8,858.25 L972.43,858.45 L974.06,858.64 L975.69,858.85 L977.32,859.06 L978.95,859.27 L980.58,859.49 L982.21,859.72 L983.84,859.95 L985.48,860.19 L987.11,860.44 L988.74,860.69 L990.37,860.94 L992,861.21 L993.63,861.47 L995.26,861.75 L996.89,862.03 L998.52,862.31 L1000.15,862.61 L1001.78,862.9 L1003.42,863.21 L1005.05,863.51 L1006.68,863.83 L1008.31,864.15 L1009.94,864.47 L1011.57,864.8 L1013.2,865.14 L1014.83,865.48 L1016.46,865.83 L1018.09,866.18 L1019.72,866.53 L1021.36,866.89 L1022.99,867.26 L1024.62,867.63 L1026.25,868 L1027.88,868.38 L1029.51,868.76 L1031.14,869.15 L1032.77,869.53 L1034.4,869.93 L1036.03,870.32 L1037.66,870.72 L1039.29,871.12 L1040.93,871.52 L1042.56,871.93 L1044.19,872.34 L1045.82,872.75 L1047.45,873.17 L1049.08,873.59 L1050.71,874.01 L1052.34,874.44 L1053.97,874.87 L1055.6,875.31 L1057.23,875.75 L1058.87,876.2 L1060.5,876.65 L1062.13,877.11 L1063.76,877.57 L1065.39,878.04 L1067.02,878.51 L1068.65,878.99 L1070.28,879.48 L1071.91,879.97 L1073.54,880.46 L1075.17,880.96 L1076.81,881.47 L1078.44,881.98 L1080.07,882.49 L1081.7,883.01 L1083.33,883.53 L1084.96,884.06 L1086.59,884.59 L1088.22,885.13 L1089.85,885.67 L1091.48,886.22 L1093.11,886.77 L1094.75,887.32 L1096.38,887.88 L1098.01,888.44 L1099.64,889.01 L1101.27,889.58 L1102.9,890.15 L1104.53,890.73 L1106.16,891.31 L1107.79,891.89 L1109.42,892.48 L1111.05,893.07 L1112.69,893.67 L1114.32,894.26 L1115.95,894.86 L1117.58,895.47 L1119.21,896.07 L1120.84,896.68 L1122.47,897.29 L1124.1,897.91 L1125.73,898.52 L1127.36,899.14 L1128.99,899.76 L1130.63,900.39 L1132.26,901.02 L1133.89,901.65 L1135.52,902.28 L1137.15,902.91 L1138.78,903.55 L1140.41,904.18 L1142.04,904.82 L1143.67,905.47 L1145.3,906.11 L1146.93,906.76 L1148.57,907.4 L1150.2,908.05 L1151.83,908.7 L1153.46,909.36 L1155.09,910.01 L1156.72,910.67 L1158.35,911.32 L1159.98,911.98 L1161.61,912.64 L1163.24,913.3 L1164.87,913.96 L1166.51,914.63 L1168.14,915.29 L1169.77,915.96 L1171.4,916.62 L1173.03,917.29 L1174.66,917.96 L1176.29,918.63 L1177.92,919.3 L1179.55,919.97 L1181.18,920.64 L1182.81,921.31 L1184.45,921.99 L1186.08,922.66 L1187.71,923.34 L1189.34,924.01 L1190.97,924.69 L1192.6,925.36 L1194.23,926.04 L1195.86,926.71 L1197.49,927.39 L1199.12,928.07 L1200.75,928.74 L1202.39,929.42 L1204.02,930.1 L1205.65,930.78 L1207.28,931.45 L1208.91,932.13 L1210.54,932.81 L1212.17,933.48 L1213.8,934.16 L1215.43,934.84 L1217.06,935.52 L1218.69,936.19 L1220.33,936.87 L1221.96,937.54 L1223.59,938.22 L1225.22,938.89 L1226.85,939.57 L1228.48,940.24 L1230.11,940.92 L1231.74,941.59 L1233.37,942.27 L1235,942.94 L1236.63,943.62 L1238.27,944.29 L1239.9,944.97 L1241.53,945.64 L1243.16,946.32 L1244.79,946.99 L1246.42,947.66 L1248.05,948.33 L1249.68,949 L1251.31,949.66 L1252.94,950.33 L1254.57,951 L1256.2,951.66 L1257.84,952.32 L1259.47,952.99 L1261.1,953.65 L1262.73,954.31 L1264.36,954.96 L1265.99,955.62 L1267.62,956.27 L1269.25,956.93 L1270.88,957.58 L1272.51,958.23 L1274.14,958.88 L1275.78,959.53 L1277.41,960.17 L1279.04,960.81 L1280.67,961.46 L1282.3,962.1 L1283.93,962.73 L1285.56,963.37 L1287.19,964 L1288.82,964.64 L1290.45,965.27 L1292.08,965.9 L1293.72,966.52 L1295.35,967.15 L1296.98,967.77 L1298.61,968.39 L1300.24,969.01 L1301.87,969.62 L1303.5,970.24 L1305.13,970.85 L1306.76,971.46 L1308.39,972.06 L1310.02,972.67 L1311.66,973.27 L1313.29,973.87 L1314.92,974.46 L1316.55,975.06 L1318.18,975.65 L1319.81,976.24 L1321.44,976.82 L1323.07,977.41 L1324.7,977.99 L1326.33,978.57 L1327.96,979.14 L1329.6,979.72 L1331.23,980.29 L1332.86,980.85 L1334.49,981.42 L1336.12,981.98 L1337.75,982.54 L1339.38,983.09 L1341.01,983.65 L1342.64,984.2 L1344.27,984.74 L1345.9,985.29 L1347.54,985.83 L1349.17,986.37 L1350.8,986.9 L1352.43,987.43 L1354.06,987.96 L1355.69,988.48 L1357.32,989.01 L1358.95,989.53 L1360.58,990.04 L1362.21,990.55 L1363.84,991.06 L1365.48,991.57 L1367.11,992.07 L1368.74,992.57 L1370.37,993.07 L1372,993.56 L1373.63,994.05 L1375.26,994.54 L1376.89,995.02 L1378.52,995.5 L1380.15,995.97 L1381.78,996.45 L1383.42,996.91 L1385.05,997.38 L1386.68,997.84 L1388.31,998.3 L1389.94,998.76 L1391.57,999.21 L1393.2,999.66 L1394.83,1000.1 L1396.46,1000.54 L1398.09,1000.98 L1399.72,1001.41 L1401.36,1001.85 L1402.99,1002.27 L1404.62,1002.7 L1406.25,1003.12 L1407.88,1003.53 L1409.51,1003.95 L1411.14,1004.36 L1412.77,1004.76 L1414.4,1005.16 L1416.03,1005.56 L1417.66,1005.96 L1419.3,1006.35 L1420.93,1006.74 L1422.56,1007.12 L1424.19,1007.5 L1425.82,1007.88 L1427.45,1008.25 L1429.08,1008.62 L1430.71,1008.99 L1432.34,1009.35 L1433.97,1009.71 L1435.6,1010.07 L1437.24,1010.42 L1438.87,1010.77 L1440.5,1011.12 L1442.13,1011.46 L1443.76,1011.8 L1445.39,1012.13 L1447.02,1012.46 L1448.65,1012.79 L1450.28,1013.12 L1451.91,1013.44 L1453.54,1013.75 L1455.18,1014.07 L1456.81,1014.38 L1458.44,1014.68 L1460.07,1014.99 L1461.7,1015.29 L1463.33,1015.58 L1464.96,1015.88 L1466.59,1016.17 L1468.22,1016.45 L1469.85,1016.74 L1471.48,1017.02 L1473.11,1017.29 L1474.75,1017.57 L1476.38,1017.84 L1478.01,1018.1 L1479.64,1018.37 L1481.27,1018.63 L1482.9,1018.88 L1484.53,1019.14 L1486.16,1019.39 L1487.79,1019.63 L1489.42,1019.88 L1491.05,1020.12 L1492.69,1020.36 L1494.32,1020.59 L1495.95,1020.82 L1497.58,1021.05 L1499.21,1021.27 L1500.84,1021.5 L1502.47,1021.72 L1504.1,1021.93 L1505.73,1022.15 L1507.36,1022.36 L1508.99,1022.56 L1510.63,1022.77 L1512.26,1022.97 L1513.89,1023.17 L1515.52,1023.37 L1517.15,1023.56 L1518.78,1023.75 L1520.41,1023.94 L1522.04,1024.13 L1523.67,1024.31 L1525.3,1024.5 L1526.93,1024.67 L1528.57,1024.85 L1530.2,1025.03 L1531.83,1025.2 L1533.46,1025.37 L1535.09,1025.54 L1536.72,1025.7 L1538.35,1025.87 L1539.98,1026.03 L1541.61,1026.19 L1543.24,1026.34 L1544.87,1026.5 L1546.51,1026.65 L1548.14,1026.8 L1549.77,1026.95 L1551.4,1027.09 L1553.03,1027.23 L1554.66,1027.37 L1556.29,1027.51 L1557.92,1027.64 L1559.55,1027.78 L1561.18,1027.9 L1562.81,1028.03 L1564.45,1028.15 L1566.08,1028.27 L1567.71,1028.38 L1569.34,1028.49 L1570.97,1028.6 L1572.6,1028.7" fill="none" stroke="#ff4500" stroke-width="2.15" stroke-linejoin="round" stroke-linecap="butt"/>
<path d="M921.87,739.71 L923.5,739.73 L925.13,739.76 L926.76,739.8 L928.39,739.85 L930.02,739.91 L931.66,739.98 L933.29,740.06 L934.92,740.15 L936.55,740.25 L938.18,740.36 L939.81,740.48 L941.44,740.61 L943.07,740.74 L944.7,740.89 L946.33,741.05 L947.96,741.22 L949.6,741.4 L951.23,741.59 L952.86,741.79 L954.49,741.99 L956.12,742.21 L957.75,742.44 L959.38,742.68 L961.01,742.93 L962.64,743.19 L964.27,743.46 L965.9,743.74 L967.54,744.02 L969.17,744.32 L970.8,744.63 L972.43,744.95 L974.06,745.28 L975.69,745.62 L977.32,745.97 L978.95,746.33 L980.58,746.7 L982.21,747.08 L983.84,747.47 L985.48,747.87 L987.11,748.27 L988.74,748.69 L990.37,749.12 L992,749.56 L993.63,750.01 L995.26,750.46 L996.89,750.93 L998.52,751.41 L1000.15,751.9 L1001.78,752.39 L1003.42,752.9 L1005.05,753.41 L1006.68,753.94 L1008.31,754.47 L1009.94,755.01 L1011.57,755.56 L1013.2,756.12 L1014.83,756.69 L1016.46,757.27 L1018.09,757.86 L1019.72,758.45 L1021.36,759.05 L1022.99,759.66 L1024.62,760.28 L1026.25,760.9 L1027.88,761.53 L1029.51,762.17 L1031.14,762.81 L1032.77,763.46 L1034.4,764.12 L1036.03,764.78 L1037.66,765.44 L1039.29,766.11 L1040.93,766.78 L1042.56,767.46 L1044.19,768.14 L1045.82,768.83 L1047.45,769.53 L1049.08,770.23 L1050.71,770.94 L1052.34,771.65 L1053.97,772.37 L1055.6,773.1 L1057.23,773.84 L1058.87,774.59 L1060.5,775.34 L1062.13,776.11 L1063.76,776.88 L1065.39,777.66 L1067.02,778.45 L1068.65,779.25 L1070.28,780.06 L1071.91,780.88 L1073.54,781.7 L1075.17,782.54 L1076.81,783.38 L1078.44,784.23 L1080.07,785.09 L1081.7,785.96 L1083.33,786.83 L1084.96,787.71 L1086.59,788.6 L1088.22,789.5 L1089.85,790.41 L1091.48,791.32 L1093.11,792.23 L1094.75,793.16 L1096.38,794.09 L1098.01,795.03 L1099.64,795.97 L1101.27,796.93 L1102.9,797.88 L1104.53,798.85 L1106.16,799.81 L1107.79,800.79 L1109.42,801.77 L1111.05,802.75 L1112.69,803.75 L1114.32,804.74 L1115.95,805.74 L1117.58,806.75 L1119.21,807.76 L1120.84,808.78 L1122.47,809.8 L1124.1,810.82 L1125.73,811.85 L1127.36,812.89 L1128.99,813.93 L1130.63,814.97 L1132.26,816.02 L1133.89,817.07 L1135.52,818.12 L1137.15,819.18 L1138.78,820.24 L1140.41,821.31 L1142.04,822.37 L1143.67,823.45 L1145.3,824.52 L1146.93,825.6 L1148.57,826.68 L1150.2,827.76 L1151.83,828.85 L1153.46,829.94 L1155.09,831.03 L1156.72,832.13 L1158.35,833.22 L1159.98,834.32 L1161.61,835.42 L1163.24,836.53 L1164.87,837.63 L1166.51,838.74 L1168.14,839.85 L1169.77,840.96 L1171.4,842.07 L1173.03,843.19 L1174.66,844.3 L1176.29,845.42 L1177.92,846.54 L1179.55,847.66 L1181.18,848.78 L1182.81,849.9 L1184.45,851.03 L1186.08,852.15 L1187.71,853.28 L1189.34,854.4 L1190.97,855.53 L1192.6,856.66 L1194.23,857.79 L1195.86,858.91 L1197.49,860.04 L1199.12,861.17 L1200.75,862.3 L1202.39,863.43 L1204.02,864.57 L1205.65,865.7 L1207.28,866.83 L1208.91,867.96 L1210.54,869.09 L1212.17,870.22 L1213.8,871.35 L1215.43,872.48 L1217.06,873.61 L1218.69,874.74 L1220.33,875.87 L1221.96,876.99 L1223.59,878.12 L1225.22,879.25 L1226.85,880.37 L1228.48,881.5 L1230.11,882.62 L1231.74,883.75 L1233.37,884.87 L1235,886 L1236.63,887.13 L1238.27,888.25 L1239.9,889.37 L1241.53,890.49 L1243.16,891.61 L1244.79,892.73 L1246.42,893.85 L1248.05,894.96 L1249.68,896.07 L1251.31,897.19 L1252.94,898.3 L1254.57,899.4 L1256.2,900.51 L1257.84,901.61 L1259.47,902.71 L1261.1,903.81 L1262.73,904.91 L1264.36,906 L1265.99,907.1 L1267.62,908.19 L1269.25,909.27 L1270.88,910.36 L1272.51,911.44 L1274.14,912.52 L1275.78,913.59 L1277.41,914.67 L1279.04,915.74 L1280.67,916.81 L1282.3,917.87 L1283.93,918.93 L1285.56,919.99 L1287.19,921.05 L1288.82,922.1 L1290.45,923.15 L1292.08,924.2 L1293.72,925.24 L1295.35,926.28 L1296.98,927.31 L1298.61,928.34 L1300.24,929.37 L1301.87,930.4 L1303.5,931.42 L1305.13,932.43 L1306.76,933.45 L1308.39,934.46 L1310.02,935.46 L1311.66,936.46 L1313.29,937.46 L1314.92,938.45 L1316.55,939.44 L1318.18,940.42 L1319.81,941.4 L1321.44,942.38 L1323.07,943.35 L1324.7,944.32 L1326.33,945.28 L1327.96,946.24 L1329.6,947.19 L1331.23,948.14 L1332.86,949.08 L1334.49,950.02 L1336.12,950.96 L1337.75,951.89 L1339.38,952.81 L1341.01,953.73 L1342.64,954.65 L1344.27,955.56 L1345.9,956.46 L1347.54,957.36 L1349.17,958.26 L1350.8,959.15 L1352.43,960.03 L1354.06,960.91 L1355.69,961.78 L1357.32,962.65 L1358.95,963.51 L1360.58,964.37 L1362.21,965.23 L1363.84,966.07 L1365.48,966.91 L1367.11,967.75 L1368.74,968.58 L1370.37,969.41 L1372,970.23 L1373.63,971.04 L1375.26,971.85 L1376.89,972.65 L1378.52,973.45 L1380.15,974.24 L1381.78,975.03 L1383.42,975.81 L1385.05,976.58 L1386.68,977.35 L1388.31,978.12 L1389.94,978.87 L1391.57,979.63 L1393.2,980.37 L1394.83,981.11 L1396.46,981.85 L1398.09,982.57 L1399.72,983.3 L1401.36,984.01 L1402.99,984.73 L1404.62,985.43 L1406.25,986.13 L1407.88,986.82 L1409.51,987.51 L1411.14,988.19 L1412.77,988.87 L1414.4,989.54 L1416.03,990.2 L1417.66,990.86 L1419.3,991.51 L1420.93,992.16 L1422.56,992.8 L1424.19,993.43 L1425.82,994.06 L1427.45,994.68 L1429.08,995.3 L1430.71,995.91 L1432.34,996.51 L1433.97,997.11 L1435.6,997.7 L1437.24,998.29 L1438.87,998.87 L1440.5,999.44 L1442.13,1000.01 L1443.76,1000.57 L1445.39,1001.13 L1447.02,1001.68 L1448.65,1002.23 L1450.28,1002.77 L1451.91,1003.3 L1453.54,1003.83 L1455.18,1004.35 L1456.81,1004.87 L1458.44,1005.38 L1460.07,1005.88 L1461.7,1006.38 L1463.33,1006.88 L1464.96,1007.36 L1466.59,1007.85 L1468.22,1008.32 L1469.85,1008.79 L1471.48,1009.26 L1473.11,1009.72 L1474.75,1010.17 L1476.38,1010.62 L1478.01,1011.07 L1479.64,1011.5 L1481.27,1011.94 L1482.9,1012.36 L1484.53,1012.79 L1486.16,1013.2 L1487.79,1013.61 L1489.42,1014.02 L1491.05,1014.42 L1492.69,1014.81 L1494.32,1015.2 L1495.95,1015.59 L1497.58,1015.97 L1499.21,1016.34 L1500.84,1016.71 L1502.47,1017.08 L1504.1,1017.44 L1505.73,1017.79 L1507.36,1018.15 L1508.99,1018.49 L1510.63,1018.83 L1512.26,1019.17 L1513.89,1019.5 L1515.52,1019.83 L1517.15,1020.15 L1518.78,1020.47 L1520.41,1020.78 L1522.04,1021.09 L1523.67,1021.4 L1525.3,1021.7 L1526.93,1022 L1528.57,1022.3 L1530.2,1022.59 L1531.83,1022.87 L1533.46,1023.16 L1535.09,1023.44 L1536.72,1023.71 L1538.35,1023.98 L1539.98,1024.25 L1541.61,1024.52 L1543.24,1024.78 L1544.87,1025.04 L1546.51,1025.29 L1548.14,1025.54 L1549.77,1025.78 L1551.4,1026.03 L1553.03,1026.26 L1554.66,1026.49 L1556.29,1026.72 L1557.92,1026.94 L1559.55,1027.16 L1561.18,1027.37 L1562.81,1027.58 L1564.45,1027.78 L1566.08,1027.98 L1567.71,1028.17 L1569.34,1028.35 L1570.97,1028.53 L1572.6,1028.7" fill="none" stroke="#0f62fa" stroke-width="2.15" stroke-linejoin="round" stroke-linecap="butt"/>
<path d="M921.87,566.32 L923.5,566.36 L925.13,566.4 L926.76,566.47 L928.39,566.55 L930.02,566.64 L931.66,566.75 L933.29,566.88 L934.92,567.02 L936.55,567.18 L938.18,567.36 L939.81,567.54 L941.44,567.75 L943.07,567.97 L944.7,568.21 L946.33,568.46 L947.96,568.73 L949.6,569.02 L951.23,569.32 L952.86,569.64 L954.49,569.97 L956.12,570.32 L957.75,570.69 L959.38,571.07 L961.01,571.47 L962.64,571.88 L964.27,572.32 L965.9,572.76 L967.54,573.23 L969.17,573.7 L970.8,574.2 L972.43,574.71 L974.06,575.24 L975.69,575.78 L977.32,576.34 L978.95,576.92 L980.58,577.51 L982.21,578.11 L983.84,578.74 L985.48,579.38 L987.11,580.03 L988.74,580.7 L990.37,581.39 L992,582.09 L993.63,582.81 L995.26,583.54 L996.89,584.29 L998.52,585.05 L1000.15,585.83 L1001.78,586.63 L1003.42,587.43 L1005.05,588.26 L1006.68,589.1 L1008.31,589.95 L1009.94,590.82 L1011.57,591.71 L1013.2,592.6 L1014.83,593.51 L1016.46,594.44 L1018.09,595.38 L1019.72,596.33 L1021.36,597.29 L1022.99,598.27 L1024.62,599.26 L1026.25,600.26 L1027.88,601.27 L1029.51,602.29 L1031.14,603.32 L1032.77,604.35 L1034.4,605.4 L1036.03,606.46 L1037.66,607.52 L1039.29,608.59 L1040.93,609.67 L1042.56,610.76 L1044.19,611.85 L1045.82,612.96 L1047.45,614.07 L1049.08,615.19 L1050.71,616.32 L1052.34,617.47 L1053.97,618.62 L1055.6,619.79 L1057.23,620.97 L1058.87,622.17 L1060.5,623.38 L1062.13,624.6 L1063.76,625.84 L1065.39,627.09 L1067.02,628.36 L1068.65,629.64 L1070.28,630.93 L1071.91,632.24 L1073.54,633.57 L1075.17,634.9 L1076.81,636.25 L1078.44,637.61 L1080.07,638.99 L1081.7,640.38 L1083.33,641.78 L1084.96,643.19 L1086.59,644.62 L1088.22,646.05 L1089.85,647.5 L1091.48,648.96 L1093.11,650.43 L1094.75,651.91 L1096.38,653.41 L1098.01,654.91 L1099.64,656.42 L1101.27,657.94 L1102.9,659.48 L1104.53,661.02 L1106.16,662.57 L1107.79,664.13 L1109.42,665.7 L1111.05,667.28 L1112.69,668.87 L1114.32,670.46 L1115.95,672.07 L1117.58,673.68 L1119.21,675.3 L1120.84,676.93 L1122.47,678.56 L1124.1,680.2 L1125.73,681.85 L1127.36,683.51 L1128.99,685.17 L1130.63,686.84 L1132.26,688.52 L1133.89,690.2 L1135.52,691.89 L1137.15,693.58 L1138.78,695.28 L1140.41,696.99 L1142.04,698.7 L1143.67,700.42 L1145.3,702.14 L1146.93,703.86 L1148.57,705.59 L1150.2,707.33 L1151.83,709.07 L1153.46,710.81 L1155.09,712.56 L1156.72,714.32 L1158.35,716.07 L1159.98,717.83 L1161.61,719.6 L1163.24,721.36 L1164.87,723.13 L1166.51,724.91 L1168.14,726.68 L1169.77,728.46 L1171.4,730.24 L1173.03,732.03 L1174.66,733.82 L1176.29,735.61 L1177.92,737.4 L1179.55,739.19 L1181.18,740.99 L1182.81,742.78 L1184.45,744.58 L1186.08,746.38 L1187.71,748.19 L1189.34,749.99 L1190.97,751.8 L1192.6,753.6 L1194.23,755.41 L1195.86,757.22 L1197.49,759.03 L1199.12,760.84 L1200.75,762.65 L1202.39,764.46 L1204.02,766.27 L1205.65,768.08 L1207.28,769.89 L1208.91,771.7 L1210.54,773.51 L1212.17,775.32 L1213.8,777.13 L1215.43,778.94 L1217.06,780.75 L1218.69,782.56 L1220.33,784.37 L1221.96,786.17 L1223.59,787.98 L1225.22,789.78 L1226.85,791.58 L1228.48,793.39 L1230.11,795.19 L1231.74,796.99 L1233.37,798.79 L1235,800.59 L1236.63,802.39 L1238.27,804.18 L1239.9,805.98 L1241.53,807.77 L1243.16,809.56 L1244.79,811.35 L1246.42,813.13 L1248.05,814.91 L1249.68,816.69 L1251.31,818.47 L1252.94,820.24 L1254.57,822.01 L1256.2,823.78 L1257.84,825.54 L1259.47,827.3 L1261.1,829.06 L1262.73,830.81 L1264.36,832.56 L1265.99,834.31 L1267.62,836.05 L1269.25,837.79 L1270.88,839.52 L1272.51,841.25 L1274.14,842.98 L1275.78,844.7 L1277.41,846.41 L1279.04,848.13 L1280.67,849.83 L1282.3,851.54 L1283.93,853.23 L1285.56,854.93 L1287.19,856.61 L1288.82,858.3 L1290.45,859.97 L1292.08,861.64 L1293.72,863.31 L1295.35,864.97 L1296.98,866.63 L1298.61,868.27 L1300.24,869.92 L1301.87,871.56 L1303.5,873.19 L1305.13,874.81 L1306.76,876.43 L1308.39,878.04 L1310.02,879.65 L1311.66,881.25 L1313.29,882.85 L1314.92,884.43 L1316.55,886.01 L1318.18,887.59 L1319.81,889.15 L1321.44,890.71 L1323.07,892.27 L1324.7,893.81 L1326.33,895.35 L1327.96,896.88 L1329.6,898.4 L1331.23,899.92 L1332.86,901.43 L1334.49,902.93 L1336.12,904.42 L1337.75,905.91 L1339.38,907.39 L1341.01,908.86 L1342.64,910.32 L1344.27,911.78 L1345.9,913.22 L1347.54,914.66 L1349.17,916.09 L1350.8,917.51 L1352.43,918.93 L1354.06,920.33 L1355.69,921.73 L1357.32,923.12 L1358.95,924.5 L1360.58,925.87 L1362.21,927.23 L1363.84,928.59 L1365.48,929.93 L1367.11,931.27 L1368.74,932.6 L1370.37,933.92 L1372,935.23 L1373.63,936.53 L1375.26,937.82 L1376.89,939.11 L1378.52,940.38 L1380.15,941.65 L1381.78,942.9 L1383.42,944.15 L1385.05,945.39 L1386.68,946.62 L1388.31,947.84 L1389.94,949.05 L1391.57,950.25 L1393.2,951.45 L1394.83,952.63 L1396.46,953.8 L1398.09,954.97 L1399.72,956.12 L1401.36,957.27 L1402.99,958.4 L1404.62,959.53 L1406.25,960.65 L1407.88,961.76 L1409.51,962.86 L1411.14,963.94 L1412.77,965.02 L1414.4,966.09 L1416.03,967.16 L1417.66,968.21 L1419.3,969.25 L1420.93,970.28 L1422.56,971.3 L1424.19,972.32 L1425.82,973.32 L1427.45,974.32 L1429.08,975.3 L1430.71,976.28 L1432.34,977.24 L1433.97,978.2 L1435.6,979.15 L1437.24,980.08 L1438.87,981.01 L1440.5,981.93 L1442.13,982.84 L1443.76,983.74 L1445.39,984.63 L1447.02,985.51 L1448.65,986.38 L1450.28,987.25 L1451.91,988.1 L1453.54,988.94 L1455.18,989.78 L1456.81,990.6 L1458.44,991.42 L1460.07,992.23 L1461.7,993.03 L1463.33,993.81 L1464.96,994.59 L1466.59,995.37 L1468.22,996.13 L1469.85,996.88 L1471.48,997.62 L1473.11,998.36 L1474.75,999.09 L1476.38,999.8 L1478.01,1000.51 L1479.64,1001.21 L1481.27,1001.9 L1482.9,1002.59 L1484.53,1003.26 L1486.16,1003.92 L1487.79,1004.58 L1489.42,1005.23 L1491.05,1005.87 L1492.69,1006.5 L1494.32,1007.13 L1495.95,1007.74 L1497.58,1008.35 L1499.21,1008.95 L1500.84,1009.54 L1502.47,1010.12 L1504.1,1010.7 L1505.73,1011.27 L1507.36,1011.83 L1508.99,1012.38 L1510.63,1012.93 L1512.26,1013.46 L1513.89,1013.99 L1515.52,1014.52 L1517.15,1015.03 L1518.78,1015.54 L1520.41,1016.05 L1522.04,1016.54 L1523.67,1017.03 L1525.3,1017.52 L1526.93,1017.99 L1528.57,1018.46 L1530.2,1018.93 L1531.83,1019.39 L1533.46,1019.84 L1535.09,1020.29 L1536.72,1020.73 L1538.35,1021.16 L1539.98,1021.59 L1541.61,1022.01 L1543.24,1022.43 L1544.87,1022.84 L1546.51,1023.25 L1548.14,1023.65 L1549.77,1024.04 L1551.4,1024.42 L1553.03,1024.8 L1554.66,1025.17 L1556.29,1025.54 L1557.92,1025.89 L1559.55,1026.24 L1561.18,1026.58 L1562.81,1026.91 L1564.45,1027.24 L1566.08,1027.55 L1567.71,1027.85 L1569.34,1028.14 L1570.97,1028.43 L1572.6,1028.7" fill="none" stroke="#20b88a" stroke-width="2.15" stroke-linejoin="round" stroke-linecap="butt"/>
<path d="M918.6,1028.2 v-7 M918.6,565.8 v7 M984,1028.2 v-7 M984,565.8 v7 M1049.4,1028.2 v-7 M1049.4,565.8 v7 M1114.8,1028.2 v-7 M1114.8,565.8 v7 M1180.2,1028.2 v-7 M1180.2,565.8 v7 M1245.6,1028.2 v-7 M1245.6,565.8 v7 M1311,1028.2 v-7 M1311,565.8 v7 M1376.4,1028.2 v-7 M1376.4,565.8 v7 M1441.8,1028.2 v-7 M1441.8,565.8 v7 M1507.2,1028.2 v-7 M1507.2,565.8 v7 M1572.6,1028.2 v-7 M1572.6,565.8 v7" stroke="#000" stroke-width="1.0" fill="none"/>
<path d="M918.6,1028.2 h7 M1572.6,1028.2 h-7 M918.6,935.72 h7 M1572.6,935.72 h-7 M918.6,843.24 h7 M1572.6,843.24 h-7 M918.6,750.76 h7 M1572.6,750.76 h-7 M918.6,658.28 h7 M1572.6,658.28 h-7 M918.6,565.8 h7 M1572.6,565.8 h-7" stroke="#000" stroke-width="1.0" fill="none"/>
<rect x="918.6" y="565.8" width="654" height="462.4" fill="none" stroke="#000" stroke-width="1.35"/>
<text transform="translate(921.6,1051.6) scale(1,1.05)" font-size="22" text-anchor="middle">0</text>
<g transform="translate(987,1051.6) scale(1,1.05)">
<text font-size="22" text-anchor="middle">0.1</text>
<path d="M3.72,-2.75h4.72v4.4h-4.72z M10.66,-2.75h4.73v4.4h-4.73z" fill="#fff"/>
</g>
<text transform="translate(1052.4,1051.6) scale(1,1.05)" font-size="22" text-anchor="middle">0.2</text>
<text transform="translate(1117.8,1051.6) scale(1,1.05)" font-size="22" text-anchor="middle">0.3</text>
<text transform="translate(1183.2,1051.6) scale(1,1.05)" font-size="22" text-anchor="middle">0.4</text>
<text transform="translate(1248.6,1051.6) scale(1,1.05)" font-size="22" text-anchor="middle">0.5</text>
<text transform="translate(1314,1051.6) scale(1,1.05)" font-size="22" text-anchor="middle">0.6</text>
<text transform="translate(1379.4,1051.6) scale(1,1.05)" font-size="22" text-anchor="middle">0.7</text>
<text transform="translate(1444.8,1051.6) scale(1,1.05)" font-size="22" text-anchor="middle">0.8</text>
<text transform="translate(1510.2,1051.6) scale(1,1.05)" font-size="22" text-anchor="middle">0.9</text>
<g transform="translate(1575.6,1051.6) scale(1,1.05)">
<text font-size="22" text-anchor="middle">1</text>
<path d="M-5.46,-2.75h4.72v4.4h-4.72z M1.48,-2.75h4.73v4.4h-4.73z" fill="#fff"/>
</g>
<text transform="translate(909.2,1035.4) scale(1,1.05)" font-size="22" text-anchor="end">0</text>
<g transform="translate(909.2,942.92) scale(1,1.05)">
<text font-size="22" text-anchor="end">0.1</text>
<path d="M-11.58,-2.75h4.72v4.4h-4.72z M-4.63,-2.75h4.73v4.4h-4.73z" fill="#fff"/>
</g>
<text transform="translate(909.2,850.44) scale(1,1.05)" font-size="22" text-anchor="end">0.2</text>
<text transform="translate(909.2,757.96) scale(1,1.05)" font-size="22" text-anchor="end">0.3</text>
<text transform="translate(909.2,665.48) scale(1,1.05)" font-size="22" text-anchor="end">0.4</text>
<text transform="translate(909.2,573) scale(1,1.05)" font-size="22" text-anchor="end">0.5</text>
<text transform="translate(1245.6,1076.4) scale(1,1.05)" font-size="26.2" text-anchor="middle">ρ</text>
<text transform="translate(866,797) rotate(-90) scale(1,1.05)" font-size="26.2" text-anchor="middle"><tspan>P</tspan><tspan font-size="20.96" dy="7.86">prf</tspan><tspan dy="-7.86">[MW/m</tspan><tspan font-size="20.96" dy="-13.1">2</tspan><tspan dy="13.1">]</tspan></text>
<text transform="translate(1476.8,594.5) scale(1,1.05)" font-size="22" text-anchor="end">w/o heating</text>
<path d="M1490,587.2 H1550" stroke="#44beff" stroke-width="2.15" fill="none"/>
<text transform="translate(1476.8,623) scale(1,1.05)" font-size="22" text-anchor="end">3MW</text>
<path d="M1490,615.7 H1550" stroke="#ff4500" stroke-width="2.15" fill="none"/>
<text transform="translate(1476.8,651.6) scale(1,1.05)" font-size="22" text-anchor="end">5MW</text>
<path d="M1490,644.3 H1550" stroke="#0f62fa" stroke-width="2.15" fill="none"/>
<text transform="translate(1476.8,680.2) scale(1,1.05)" font-size="22" text-anchor="end">8MW</text>
<path d="M1490,672.9 H1550" stroke="#20b88a" stroke-width="2.15" fill="none"/>
<text y="629.6" stroke="#fff"><tspan x="831.95" dy="0.7" font-size="44.5" stroke-width="0.4" textLength="12.61" lengthAdjust="spacingAndGlyphs">(</tspan><tspan x="847.4" dy="-0.7" font-size="38.6" stroke-width="0.1" textLength="19.82" lengthAdjust="spacingAndGlyphs">d</tspan><tspan x="870.16" dy="0.7" font-size="44.5" stroke-width="0.4" textLength="13.37" lengthAdjust="spacingAndGlyphs">)</tspan></text>
</g>
</svg></body></html>
